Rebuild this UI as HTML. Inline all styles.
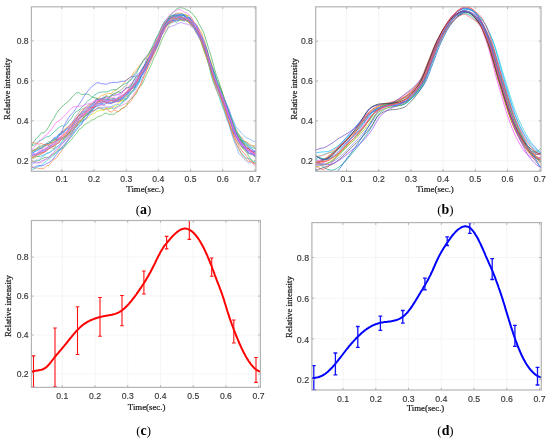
<!DOCTYPE html>
<html><head><meta charset="utf-8"><title>Figure</title>
<style>
html,body{margin:0;padding:0;background:#fff;}
body{width:550px;height:441px;overflow:hidden;}
svg{display:block;filter:blur(0.4px);}
.grid{stroke:#f4f4f4;stroke-width:0.9;}
.ax{fill:none;stroke:#b3b3b3;stroke-width:1.2;}
.tk{stroke:#b3b3b3;stroke-width:1;}
.tl{font-family:'Liberation Sans', Arial, sans-serif;fill:#363636;stroke:#363636;stroke-width:0.15px;}
.xl{font-family:'Liberation Serif', 'Times New Roman', serif;font-size:8.8px;fill:#1a1a1a;stroke:#1a1a1a;stroke-width:0.22px;}
.cap{font-family:'Liberation Serif', 'Times New Roman', serif;font-size:13.9px;fill:#000;}
</style></head><body>
<svg width="550" height="441" viewBox="0 0 550 441">
<defs>
<clipPath id="ca"><rect x="31.4" y="6.8" width="224.5" height="164.5"/></clipPath>
<clipPath id="cb"><rect x="315.7" y="6.8" width="225.3" height="164.5"/></clipPath>
<clipPath id="cc"><rect x="31.4" y="0" width="228.99999999999997" height="441"/></clipPath>
<clipPath id="cd"><rect x="311.9" y="0" width="229.39999999999998" height="441"/></clipPath>
</defs>
<line x1="61.8" y1="6.8" x2="61.8" y2="171.3" class="grid"/>
<line x1="94" y1="6.8" x2="94" y2="171.3" class="grid"/>
<line x1="126.2" y1="6.8" x2="126.2" y2="171.3" class="grid"/>
<line x1="158.3" y1="6.8" x2="158.3" y2="171.3" class="grid"/>
<line x1="190.5" y1="6.8" x2="190.5" y2="171.3" class="grid"/>
<line x1="222.7" y1="6.8" x2="222.7" y2="171.3" class="grid"/>
<line x1="254.9" y1="6.8" x2="254.9" y2="171.3" class="grid"/>
<line x1="31.4" y1="160.8" x2="255.9" y2="160.8" class="grid"/>
<line x1="31.4" y1="120.8" x2="255.9" y2="120.8" class="grid"/>
<line x1="31.4" y1="80.9" x2="255.9" y2="80.9" class="grid"/>
<line x1="31.4" y1="40.9" x2="255.9" y2="40.9" class="grid"/>
<line x1="346.6" y1="6.8" x2="346.6" y2="171.3" class="grid"/>
<line x1="378.8" y1="6.8" x2="378.8" y2="171.3" class="grid"/>
<line x1="411" y1="6.8" x2="411" y2="171.3" class="grid"/>
<line x1="443.1" y1="6.8" x2="443.1" y2="171.3" class="grid"/>
<line x1="475.3" y1="6.8" x2="475.3" y2="171.3" class="grid"/>
<line x1="507.5" y1="6.8" x2="507.5" y2="171.3" class="grid"/>
<line x1="539.7" y1="6.8" x2="539.7" y2="171.3" class="grid"/>
<line x1="315.7" y1="160.8" x2="541" y2="160.8" class="grid"/>
<line x1="315.7" y1="120.9" x2="541" y2="120.9" class="grid"/>
<line x1="315.7" y1="81" x2="541" y2="81" class="grid"/>
<line x1="315.7" y1="41.1" x2="541" y2="41.1" class="grid"/>
<line x1="62.3" y1="220.5" x2="62.3" y2="387.4" class="grid"/>
<line x1="95" y1="220.5" x2="95" y2="387.4" class="grid"/>
<line x1="127.7" y1="220.5" x2="127.7" y2="387.4" class="grid"/>
<line x1="160.5" y1="220.5" x2="160.5" y2="387.4" class="grid"/>
<line x1="193.2" y1="220.5" x2="193.2" y2="387.4" class="grid"/>
<line x1="225.9" y1="220.5" x2="225.9" y2="387.4" class="grid"/>
<line x1="258.6" y1="220.5" x2="258.6" y2="387.4" class="grid"/>
<line x1="31.4" y1="374" x2="260.4" y2="374" class="grid"/>
<line x1="31.4" y1="335" x2="260.4" y2="335" class="grid"/>
<line x1="31.4" y1="296.1" x2="260.4" y2="296.1" class="grid"/>
<line x1="31.4" y1="257.1" x2="260.4" y2="257.1" class="grid"/>
<line x1="343" y1="222.6" x2="343" y2="390" class="grid"/>
<line x1="375.8" y1="222.6" x2="375.8" y2="390" class="grid"/>
<line x1="408.5" y1="222.6" x2="408.5" y2="390" class="grid"/>
<line x1="441.3" y1="222.6" x2="441.3" y2="390" class="grid"/>
<line x1="474" y1="222.6" x2="474" y2="390" class="grid"/>
<line x1="506.8" y1="222.6" x2="506.8" y2="390" class="grid"/>
<line x1="539.6" y1="222.6" x2="539.6" y2="390" class="grid"/>
<line x1="311.9" y1="379.6" x2="541.3" y2="379.6" class="grid"/>
<line x1="311.9" y1="338.9" x2="541.3" y2="338.9" class="grid"/>
<line x1="311.9" y1="298.2" x2="541.3" y2="298.2" class="grid"/>
<line x1="311.9" y1="257.5" x2="541.3" y2="257.5" class="grid"/>
<g clip-path="url(#ca)">
<polyline points="31.4,156.3 33.9,155.3 36.4,155.7 38.9,153.6 41.4,154.2 43.9,152.5 46.4,148.9 48.9,149 51.4,146 53.9,144.7 56.4,142.3 58.9,138.2 61.4,137.1 63.9,134.5 66.4,132.7 68.9,128.1 71.4,126.4 73.9,121.3 76.4,118.4 78.9,115 81.4,114.6 83.9,111.9 86.4,111.7 88.9,108.6 91.4,106.9 93.9,104.8 96.4,102 98.9,101.7 101.4,102.9 103.9,101.8 106.4,102.5 108.9,102.6 111.4,103.1 113.9,102.1 116.4,101.8 118.9,101.4 121.4,100 123.9,97.3 126.4,96.2 128.9,91.6 131.4,88.6 133.9,84.8 136.4,82.4 138.9,76.8 141.4,71.3 143.9,66.1 146.4,62.3 148.9,56.2 151.4,51 153.9,47.3 156.4,40.5 158.9,35.8 161.4,30 163.9,24.5 166.4,21.6 168.9,20.5 171.4,17.7 173.9,16.2 176.4,15.5 178.9,16.7 181.4,16.9 183.9,17.9 186.4,18.3 188.9,20.1 191.4,22.3 193.9,25.7 196.4,30 198.9,34 201.4,39.6 203.9,47.8 206.4,54.7 208.9,61.3 211.4,72 213.9,78.6 216.4,84.1 218.9,91.7 221.4,97.7 223.9,104.1 226.4,111.1 228.9,117.8 231.4,126.2 233.9,133.8 236.4,137.7 238.9,142.3 241.4,146.7 243.9,146.7 246.4,149.8 248.9,150.7 251.4,150.9 253.9,151.4 255.9,152.2" fill="none" stroke="#ff5a5a" stroke-width="0.65" stroke-linejoin="round" />
<polyline points="31.4,153.1 33.9,152.5 36.4,149.9 38.9,147.3 41.4,148.6 43.9,146.4 46.4,143.2 48.9,143.7 51.4,141 53.9,137.8 56.4,136.9 58.9,134.8 61.4,134.4 63.9,130.5 66.4,128.9 68.9,126.6 71.4,124 73.9,120.6 76.4,118.1 78.9,115.6 81.4,112.6 83.9,109.3 86.4,107.4 88.9,106.7 91.4,104.4 93.9,102.2 96.4,99.1 98.9,100.2 101.4,98.7 103.9,96.9 106.4,98.2 108.9,98.3 111.4,94.8 113.9,95.5 116.4,94.6 118.9,94.2 121.4,92.2 123.9,90.2 126.4,88.2 128.9,87.3 131.4,85 133.9,80 136.4,76.5 138.9,76 141.4,69.3 143.9,65.8 146.4,62.3 148.9,58.4 151.4,54.2 153.9,48.8 156.4,42.7 158.9,38.5 161.4,32.2 163.9,27.9 166.4,22.6 168.9,18.8 171.4,17.2 173.9,17.9 176.4,15.6 178.9,13.9 181.4,15.1 183.9,15.9 186.4,17.5 188.9,17.3 191.4,20.7 193.9,23.8 196.4,26.2 198.9,30.8 201.4,37.3 203.9,43.2 206.4,50.1 208.9,58 211.4,66.7 213.9,73.7 216.4,81 218.9,86.5 221.4,93.5 223.9,100.1 226.4,109.3 228.9,113.9 231.4,122.1 233.9,129.5 236.4,134.4 238.9,140.2 241.4,141.2 243.9,145.9 246.4,148.7 248.9,147.7 251.4,149.7 253.9,152.2 255.9,151.4" fill="none" stroke="#5a6bff" stroke-width="0.65" stroke-linejoin="round" />
<polyline points="31.4,157.8 33.9,156.9 36.4,156 38.9,156.8 41.4,155.8 43.9,154.9 46.4,153.8 48.9,152.9 51.4,151.2 53.9,149.7 56.4,147.4 58.9,145.4 61.4,142.5 63.9,138.9 66.4,136.2 68.9,133.7 71.4,129.7 73.9,126.8 76.4,123.8 78.9,119.4 81.4,116.5 83.9,117.1 86.4,114.6 88.9,113.6 91.4,110.1 93.9,110.9 96.4,109.1 98.9,108.3 101.4,108.4 103.9,109.1 106.4,109 108.9,108.9 111.4,107.9 113.9,109.1 116.4,107.2 118.9,106.1 121.4,104.2 123.9,99.8 126.4,99.3 128.9,95.8 131.4,92.6 133.9,89.5 136.4,84.9 138.9,82.1 141.4,76.2 143.9,70.8 146.4,65.5 148.9,61 151.4,56.3 153.9,49.9 156.4,43.7 158.9,39.9 161.4,31.9 163.9,28.8 166.4,24.4 168.9,21.6 171.4,20.1 173.9,20 176.4,19.8 178.9,18.7 181.4,19.8 183.9,21.3 186.4,20.6 188.9,21.8 191.4,24.6 193.9,27.8 196.4,32.5 198.9,37.2 201.4,42.2 203.9,50.7 206.4,56.5 208.9,65.8 211.4,76.5 213.9,83.6 216.4,89.9 218.9,96.2 221.4,104.1 223.9,110.3 226.4,117.4 228.9,123.7 231.4,132.4 233.9,138.9 236.4,144.3 238.9,148.9 241.4,153.1 243.9,155.8 246.4,158.7 248.9,158.4 251.4,160.2 253.9,162.2 255.9,160.7" fill="none" stroke="#00c6c6" stroke-width="0.65" stroke-linejoin="round" />
<polyline points="31.4,151.3 33.9,150.4 36.4,149.3 38.9,148.5 41.4,147 43.9,146.4 46.4,145.2 48.9,143.7 51.4,141.3 53.9,139.5 56.4,138.3 58.9,135.7 61.4,133.7 63.9,129.7 66.4,127.3 68.9,127.3 71.4,124.4 73.9,122 76.4,118 78.9,114.5 81.4,111.9 83.9,108.6 86.4,108.6 88.9,105.6 91.4,104.4 93.9,101.7 96.4,99.2 98.9,97.7 101.4,95.6 103.9,95 106.4,93.9 108.9,93.3 111.4,93.7 113.9,90.6 116.4,90 118.9,87.8 121.4,85.8 123.9,83.6 126.4,79.7 128.9,78.3 131.4,76.8 133.9,72.1 136.4,69.7 138.9,66 141.4,63.6 143.9,59.5 146.4,58.7 148.9,53.7 151.4,48.6 153.9,46.8 156.4,41.3 158.9,35.8 161.4,29.9 163.9,23.6 166.4,20.1 168.9,18.2 171.4,16.6 173.9,15.3 176.4,14 178.9,13 181.4,13.1 183.9,14.4 186.4,15.3 188.9,15.4 191.4,17.4 193.9,21.7 196.4,24.7 198.9,28.8 201.4,32.2 203.9,39.2 206.4,47 208.9,55.9 211.4,62.4 213.9,72.7 216.4,78.7 218.9,84.8 221.4,89.9 223.9,97.3 226.4,105.1 228.9,109.5 231.4,118.2 233.9,125.6 236.4,129.6 238.9,134.7 241.4,136.8 243.9,140.6 246.4,142 248.9,143.3 251.4,145.8 253.9,145.6 255.9,146.4" fill="none" stroke="#ffa020" stroke-width="0.65" stroke-linejoin="round" />
<polyline points="31.4,161 33.9,161.7 36.4,159.9 38.9,160.9 41.4,158.8 43.9,157.9 46.4,157.3 48.9,157.4 51.4,155.5 53.9,154 56.4,152.3 58.9,149.1 61.4,147.9 63.9,147.7 66.4,144.8 68.9,142.2 71.4,139.9 73.9,136.2 76.4,133.8 78.9,129.7 81.4,128.1 83.9,125.1 86.4,123.7 88.9,122.5 91.4,120.2 93.9,119.5 96.4,117.7 98.9,116.2 101.4,116.1 103.9,113.5 106.4,113.1 108.9,114.5 111.4,114.2 113.9,114.4 116.4,112.4 118.9,111.3 121.4,108.5 123.9,107.9 126.4,105.3 128.9,101.2 131.4,98.5 133.9,96.3 136.4,93.3 138.9,87.2 141.4,85.5 143.9,80.6 146.4,74.8 148.9,69.6 151.4,64.5 153.9,58 156.4,53.7 158.9,47.5 161.4,40.9 163.9,35.4 166.4,31.3 168.9,25.5 171.4,22.8 173.9,21 176.4,22.7 178.9,20.3 181.4,20.1 183.9,19.7 186.4,20.2 188.9,20.4 191.4,24.1 193.9,26.9 196.4,28.6 198.9,33.4 201.4,38.2 203.9,44.1 206.4,50.6 208.9,59.1 211.4,67.4 213.9,75 216.4,83 218.9,87.7 221.4,94.1 223.9,101.9 226.4,107.9 228.9,114.6 231.4,119.9 233.9,127.2 236.4,136.5 238.9,141.7 241.4,145.9 243.9,149.7 246.4,152 248.9,156.6 251.4,159.9 253.9,162.9 255.9,163.5" fill="none" stroke="#44bb44" stroke-width="0.65" stroke-linejoin="round" />
<polyline points="31.4,158.5 33.9,156.5 36.4,154.6 38.9,152.7 41.4,151.6 43.9,150 46.4,148.6 48.9,147.4 51.4,146.1 53.9,145.7 56.4,141.5 58.9,141.2 61.4,138.8 63.9,136.5 66.4,133.6 68.9,133.9 71.4,130.2 73.9,127.6 76.4,125.7 78.9,122 81.4,121 83.9,119.4 86.4,118.7 88.9,117.4 91.4,114.2 93.9,113.9 96.4,111.6 98.9,110.8 101.4,110.1 103.9,110.5 106.4,108.4 108.9,108.8 111.4,108.5 113.9,106 116.4,106.3 118.9,102.2 121.4,100.9 123.9,97.7 126.4,94.7 128.9,91.3 131.4,88.8 133.9,86.1 136.4,82.1 138.9,79.9 141.4,76.5 143.9,69.8 146.4,67.2 148.9,62 151.4,57.2 153.9,54 156.4,47.7 158.9,41.6 161.4,35.2 163.9,27.6 166.4,26.1 168.9,22.2 171.4,21.1 173.9,19.8 176.4,19.8 178.9,20.3 181.4,19.5 183.9,20.2 186.4,19.9 188.9,22.2 191.4,25 193.9,26.6 196.4,33.2 198.9,35.6 201.4,40.4 203.9,49.5 206.4,57.8 208.9,63.6 211.4,71.3 213.9,81.7 216.4,85.3 218.9,89.2 221.4,96.4 223.9,104.6 226.4,109.7 228.9,116 231.4,123 233.9,129 236.4,132.9 238.9,135.7 241.4,140.6 243.9,142.3 246.4,146 248.9,150.1 251.4,151.7 253.9,153.9 255.9,155.9" fill="none" stroke="#e0e000" stroke-width="0.65" stroke-linejoin="round" />
<polyline points="31.4,161.6 33.9,161.9 36.4,161.7 38.9,162.7 41.4,162.8 43.9,160.3 46.4,159.1 48.9,159 51.4,154.9 53.9,153.4 56.4,150.9 58.9,148.4 61.4,145 63.9,141.3 66.4,138.9 68.9,134.3 71.4,130.4 73.9,126.4 76.4,124.6 78.9,118.8 81.4,117.4 83.9,115.3 86.4,113.5 88.9,111 91.4,109.2 93.9,107.9 96.4,105.8 98.9,104.1 101.4,106.1 103.9,104.9 106.4,107.7 108.9,107.2 111.4,106.9 113.9,107.9 116.4,108.5 118.9,106.1 121.4,105.8 123.9,104.3 126.4,103.1 128.9,100.8 131.4,97.8 133.9,94.1 136.4,90.6 138.9,87.9 141.4,83.1 143.9,76.9 146.4,69.9 148.9,65.8 151.4,60.1 153.9,54.5 156.4,50 158.9,43.6 161.4,35.8 163.9,29.7 166.4,27.3 168.9,23.3 171.4,21.8 173.9,19.5 176.4,18 178.9,18.5 181.4,19.5 183.9,18.8 186.4,18.3 188.9,20.5 191.4,22.5 193.9,26.1 196.4,30.4 198.9,35.3 201.4,38.8 203.9,44 206.4,51.8 208.9,59.9 211.4,67.3 213.9,75.4 216.4,82.4 218.9,87.2 221.4,94.5 223.9,100 226.4,105.9 228.9,113.6 231.4,119.5 233.9,128.4 236.4,133.2 238.9,137.4 241.4,140.4 243.9,144 246.4,147.9 248.9,149.3 251.4,152.8 253.9,152.8 255.9,156.4" fill="none" stroke="#ff80b0" stroke-width="0.65" stroke-linejoin="round" />
<polyline points="31.4,151.3 33.9,151.2 36.4,149.8 38.9,149 41.4,148.9 43.9,147.3 46.4,145.7 48.9,145.4 51.4,141.9 53.9,139.9 56.4,138.9 58.9,134.5 61.4,131.6 63.9,131.6 66.4,128.4 68.9,126 71.4,123.1 73.9,119.9 76.4,115.2 78.9,112.4 81.4,109.2 83.9,108.3 86.4,106.7 88.9,104.7 91.4,103.9 93.9,103.7 96.4,98.4 98.9,98.6 101.4,98.4 103.9,98.3 106.4,96.6 108.9,97.6 111.4,96.3 113.9,94.4 116.4,92.7 118.9,91.3 121.4,89.8 123.9,87.2 126.4,85.6 128.9,80.7 131.4,78.5 133.9,74.4 136.4,71.9 138.9,67.6 141.4,63.3 143.9,59.2 146.4,56.2 148.9,53.2 151.4,49.8 153.9,44.6 156.4,38 158.9,33.3 161.4,27.7 163.9,22.5 166.4,19.5 168.9,17.8 171.4,15.9 173.9,14.3 176.4,13 178.9,14.2 181.4,13.5 183.9,15.4 186.4,17.1 188.9,17.9 191.4,21.7 193.9,25.1 196.4,31.1 198.9,34.8 201.4,38.5 203.9,47.6 206.4,55.9 208.9,63.5 211.4,71.4 213.9,79.6 216.4,85.7 218.9,91.4 221.4,96.6 223.9,103.6 226.4,109 228.9,115.4 231.4,123.1 233.9,128.6 236.4,133.5 238.9,139.1 241.4,140.1 243.9,141.2 246.4,142.1 248.9,144.8 251.4,145.8 253.9,146.5 255.9,149.7" fill="none" stroke="#909090" stroke-width="0.65" stroke-linejoin="round" />
<polyline points="31.4,151.7 33.9,149.9 36.4,148.9 38.9,146.4 41.4,146.1 43.9,144.7 46.4,144.2 48.9,141.5 51.4,143.3 53.9,140.2 56.4,139.5 58.9,140 61.4,137.9 63.9,138.4 66.4,135.6 68.9,132.8 71.4,131.6 73.9,128.4 76.4,126.8 78.9,123.8 81.4,120.5 83.9,117.1 86.4,115.1 88.9,113.4 91.4,109.2 93.9,106.1 96.4,104.3 98.9,101.5 101.4,99.1 103.9,97.9 106.4,95.6 108.9,97.2 111.4,95.4 113.9,93.4 116.4,92.7 118.9,91.9 121.4,92.9 123.9,90.7 126.4,87.3 128.9,87.8 131.4,85.2 133.9,80.5 136.4,76.2 138.9,75.6 141.4,70.6 143.9,67 146.4,62.5 148.9,59.6 151.4,55.1 153.9,49.6 156.4,43.7 158.9,38.7 161.4,32.9 163.9,25.3 166.4,23.6 168.9,19.5 171.4,18 173.9,16.5 176.4,16.4 178.9,16 181.4,16.8 183.9,15 186.4,15.2 188.9,17.4 191.4,18.8 193.9,22.9 196.4,25 198.9,29.8 201.4,35.3 203.9,41.1 206.4,48 208.9,57.1 211.4,65 213.9,70.5 216.4,79.3 218.9,85.1 221.4,90.8 223.9,97 226.4,104.1 228.9,111.1 231.4,118 233.9,126.3 236.4,132.1 238.9,135.5 241.4,139.3 243.9,143.9 246.4,145.5 248.9,148.7 251.4,151 253.9,153.2 255.9,154" fill="none" stroke="#3a9a3a" stroke-width="0.65" stroke-linejoin="round" />
<polyline points="31.4,165.9 33.9,163.2 36.4,160.6 38.9,159.9 41.4,157.2 43.9,156.2 46.4,153 48.9,152.5 51.4,151.5 53.9,148.6 56.4,147.2 58.9,145.7 61.4,143.3 63.9,142.4 66.4,138.3 68.9,135.7 71.4,132.6 73.9,127.9 76.4,125.2 78.9,124.3 81.4,121.5 83.9,120.8 86.4,117.5 88.9,115.1 91.4,113.4 93.9,110.5 96.4,109.8 98.9,106.9 101.4,107.6 103.9,107.3 106.4,106.9 108.9,107 111.4,106.5 113.9,105.2 116.4,104.2 118.9,104.7 121.4,102.7 123.9,101.6 126.4,99.8 128.9,96.7 131.4,93.2 133.9,90.7 136.4,88.2 138.9,83.4 141.4,80.1 143.9,73.9 146.4,68.5 148.9,62.5 151.4,57.7 153.9,53.3 156.4,46.6 158.9,40.9 161.4,34.3 163.9,30.2 166.4,24.9 168.9,23 171.4,22.6 173.9,21.8 176.4,19.8 178.9,20.2 181.4,17.8 183.9,20.1 186.4,20.5 188.9,20.7 191.4,22.4 193.9,26.5 196.4,30.7 198.9,35.1 201.4,40.1 203.9,47.2 206.4,55.3 208.9,62 211.4,71.1 213.9,79.2 216.4,87.6 218.9,93 221.4,101.4 223.9,108.4 226.4,118.1 228.9,124.3 231.4,132.8 233.9,140.5 236.4,146.8 238.9,153.8 241.4,155.7 243.9,158.7 246.4,161.3 248.9,163.2 251.4,162.4 253.9,163.6 255.9,162.7" fill="none" stroke="#6fa8ff" stroke-width="0.65" stroke-linejoin="round" />
<polyline points="31.4,154.3 33.9,153.3 36.4,154.1 38.9,150.4 41.4,150 43.9,149.1 46.4,147.7 48.9,146.1 51.4,144.7 53.9,142.1 56.4,140.3 58.9,138.4 61.4,135.5 63.9,133 66.4,129.5 68.9,126.5 71.4,124 73.9,121.3 76.4,117.4 78.9,115 81.4,112.6 83.9,110.8 86.4,107.5 88.9,107.5 91.4,105.2 93.9,104.1 96.4,101 98.9,99.8 101.4,99.2 103.9,99.2 106.4,97.6 108.9,98.3 111.4,97.8 113.9,97.6 116.4,95.1 118.9,94.3 121.4,94 123.9,90.1 126.4,89 128.9,85.6 131.4,83.5 133.9,81.3 136.4,78.8 138.9,74.5 141.4,70.6 143.9,68.9 146.4,63.9 148.9,60.2 151.4,55.8 153.9,50.9 156.4,45.1 158.9,39.9 161.4,32.8 163.9,28.8 166.4,24.9 168.9,22.8 171.4,22.6 173.9,20.5 176.4,19.4 178.9,17.9 181.4,19.5 183.9,20.4 186.4,19.2 188.9,21.7 191.4,23.1 193.9,26.4 196.4,29.7 198.9,32.9 201.4,38.8 203.9,44.2 206.4,54.4 208.9,62.3 211.4,69.4 213.9,77.3 216.4,83.8 218.9,89.9 221.4,96.4 223.9,102.7 226.4,109.6 228.9,115.6 231.4,123.1 233.9,130.4 236.4,136.2 238.9,139.7 241.4,144.6 243.9,145.4 246.4,147 248.9,148.9 251.4,150 253.9,151 255.9,150.3" fill="none" stroke="#ff66ff" stroke-width="0.65" stroke-linejoin="round" />
<polyline points="31.4,145.5 33.9,145.2 36.4,143.4 38.9,140.8 41.4,140.3 43.9,138.5 46.4,136.9 48.9,136.5 51.4,134.9 53.9,131.9 56.4,129.8 58.9,127.7 61.4,125.8 63.9,126.1 66.4,124.6 68.9,120.8 71.4,118.4 73.9,113.8 76.4,111.5 78.9,110.1 81.4,107.6 83.9,105.4 86.4,102.2 88.9,100.1 91.4,98.3 93.9,95.6 96.4,94 98.9,92.4 101.4,92.1 103.9,91.9 106.4,91.9 108.9,91.1 111.4,90 113.9,89.6 116.4,89.7 118.9,87.9 121.4,85.9 123.9,84.3 126.4,83.4 128.9,81.6 131.4,79.7 133.9,75.4 136.4,73.4 138.9,68.2 141.4,64.3 143.9,60.2 146.4,57.3 148.9,53.7 151.4,48.4 153.9,43.3 156.4,37.5 158.9,33.6 161.4,27.4 163.9,22.6 166.4,19.1 168.9,16.8 171.4,15.8 173.9,15.7 176.4,15.8 178.9,15 181.4,15.5 183.9,15.7 186.4,16.8 188.9,17.7 191.4,21.9 193.9,25 196.4,29.5 198.9,32.3 201.4,38.2 203.9,44.1 206.4,53.2 208.9,61.2 211.4,69.8 213.9,76.9 216.4,83.9 218.9,89.1 221.4,96.5 223.9,102.5 226.4,109.2 228.9,116.5 231.4,124.2 233.9,128.9 236.4,133.4 238.9,138.2 241.4,140.7 243.9,141.3 246.4,143.4 248.9,145.5 251.4,147.4 253.9,148.1 255.9,149" fill="none" stroke="#20b090" stroke-width="0.65" stroke-linejoin="round" />
<polyline points="31.4,165.5 33.9,168.3 36.4,167.8 38.9,168.5 41.4,168.4 43.9,168.6 46.4,165.9 48.9,165.4 51.4,162.3 53.9,159.1 56.4,158 58.9,154.2 61.4,151.4 63.9,146.5 66.4,142.7 68.9,138.2 71.4,134.4 73.9,129.2 76.4,126.6 78.9,121 81.4,120.2 83.9,116.5 86.4,115.4 88.9,113.2 91.4,111.7 93.9,110.9 96.4,108.7 98.9,107.4 101.4,108.8 103.9,109.8 106.4,108.1 108.9,111.4 111.4,112 113.9,109.9 116.4,111.1 118.9,111.5 121.4,109 123.9,107.8 126.4,105.5 128.9,103.3 131.4,100.6 133.9,96.1 136.4,92.1 138.9,88.2 141.4,82.7 143.9,76.3 146.4,71.4 148.9,63.4 151.4,59.1 153.9,53 156.4,47.3 158.9,42.2 161.4,35.8 163.9,31.7 166.4,26.3 168.9,23.3 171.4,22.5 173.9,20.8 176.4,18 178.9,19.3 181.4,19.9 183.9,19.4 186.4,21 188.9,22.3 191.4,25.3 193.9,27.2 196.4,30.9 198.9,36.6 201.4,42.5 203.9,49.7 206.4,56.4 208.9,64.6 211.4,74 213.9,81.4 216.4,90.1 218.9,94.8 221.4,100.1 223.9,108.1 226.4,115.4 228.9,122.5 231.4,130.4 233.9,138 236.4,144.3 238.9,149.1 241.4,154.1 243.9,157.4 246.4,159.7 248.9,161.7 251.4,161.5 253.9,162.8 255.9,164" fill="none" stroke="#ff7a3a" stroke-width="0.65" stroke-linejoin="round" />
<polyline points="31.4,154 33.9,152 36.4,150.9 38.9,149.2 41.4,147.7 43.9,145.7 46.4,144.7 48.9,143.2 51.4,141.3 53.9,138.5 56.4,138.3 58.9,134.2 61.4,133.3 63.9,132.3 66.4,129.2 68.9,128.5 71.4,126.6 73.9,123.3 76.4,119.2 78.9,116.5 81.4,112.8 83.9,111.4 86.4,109.7 88.9,107.6 91.4,105.9 93.9,103.4 96.4,99.8 98.9,99.9 101.4,99.1 103.9,100.5 106.4,99.7 108.9,99.5 111.4,100.5 113.9,100.6 116.4,100.1 118.9,99.7 121.4,98.5 123.9,98.9 126.4,98.5 128.9,93.5 131.4,91.7 133.9,90.1 136.4,86.1 138.9,82.2 141.4,75.9 143.9,71.9 146.4,67.6 148.9,62.5 151.4,57.1 153.9,50.8 156.4,46.5 158.9,39.6 161.4,33.8 163.9,27.3 166.4,24.7 168.9,20.1 171.4,18.3 173.9,15 176.4,16.8 178.9,15.9 181.4,14.2 183.9,14.6 186.4,18 188.9,17.4 191.4,21.8 193.9,22.9 196.4,25 198.9,32.1 201.4,36.5 203.9,42.3 206.4,48.5 208.9,56.9 211.4,65.9 213.9,72.3 216.4,78.8 218.9,87.2 221.4,91.8 223.9,99.5 226.4,104.5 228.9,110.9 231.4,117.5 233.9,122.7 236.4,131.7 238.9,134.7 241.4,138.5 243.9,142.8 246.4,144.3 248.9,147 251.4,148.5 253.9,150.6 255.9,151.5" fill="none" stroke="#00a8ff" stroke-width="0.65" stroke-linejoin="round" />
<polyline points="31.4,159.3 33.9,158.2 36.4,156.7 38.9,156 41.4,153.3 43.9,152.2 46.4,151 48.9,148.8 51.4,147.9 53.9,148.8 56.4,144.8 58.9,142.3 61.4,139.5 63.9,140 66.4,136.8 68.9,134.2 71.4,134.1 73.9,130.2 76.4,124.2 78.9,121.8 81.4,119.9 83.9,117.2 86.4,113.2 88.9,113.1 91.4,110.8 93.9,105.7 96.4,102.4 98.9,100.6 101.4,101.2 103.9,101.2 106.4,100.6 108.9,100.2 111.4,101 113.9,101.7 116.4,100.5 118.9,100 121.4,100.9 123.9,100.7 126.4,97.9 128.9,95.5 131.4,91.8 133.9,89.3 136.4,82.8 138.9,79.2 141.4,73.4 143.9,68.1 146.4,61.9 148.9,58 151.4,51.9 153.9,46.1 156.4,41.6 158.9,35.6 161.4,29.2 163.9,24.1 166.4,22.2 168.9,18.8 171.4,18.2 173.9,17.5 176.4,17.9 178.9,17.7 181.4,20 183.9,17.6 186.4,20.8 188.9,22.3 191.4,25.9 193.9,27.1 196.4,33.4 198.9,35.9 201.4,43 203.9,49.7 206.4,57.5 208.9,64.9 211.4,72.9 213.9,81.2 216.4,86.9 218.9,92 221.4,98.8 223.9,107.7 226.4,114.7 228.9,121.5 231.4,128.6 233.9,135.4 236.4,140.5 238.9,144.3 241.4,146.8 243.9,149.5 246.4,151.3 248.9,153.9 251.4,154.3 253.9,155.9 255.9,157.5" fill="none" stroke="#a0a040" stroke-width="0.65" stroke-linejoin="round" />
<polyline points="31.4,147 33.9,141.7 36.4,138.4 38.9,135.8 41.4,132.9 43.9,132.7 46.4,130.3 48.9,126.5 51.4,121.7 53.9,118.3 56.4,113.5 58.9,110 61.4,107.4 63.9,104.9 66.4,102.8 68.9,100.9 71.4,97.7 73.9,95.2 76.4,92.8 78.9,92.7 81.4,94.7 83.9,94.2 86.4,94.2 88.9,94.4 91.4,96.7 93.9,97.4 96.4,98.1 98.9,99.5 101.4,99.1 103.9,99 106.4,99.5 108.9,99.3 111.4,98.9 113.9,98.4 116.4,99 118.9,97.7 121.4,95.6 123.9,94.6 126.4,92.1 128.9,89.5 131.4,86.3 133.9,83.9 136.4,79.6 138.9,76.6 141.4,72.1 143.9,68.2 146.4,62.7 148.9,58.5 151.4,53.7 153.9,48.3 156.4,43.3 158.9,37.9 161.4,32.5 163.9,27.1 166.4,22.5 168.9,17.8 171.4,14.1 173.9,11.6 176.4,9.2 178.9,7.8 181.4,7.7 183.9,8.3 186.4,9.6 188.9,10.6 191.4,12.6 193.9,15.6 196.4,18.6 198.9,23.8 201.4,28.2 203.9,32.9 206.4,41.2 208.9,49.3 211.4,57.2 213.9,66.5 216.4,75.3 218.9,81.6 221.4,89.4 223.9,98.7 226.4,105.8 228.9,112.8 231.4,120.6 233.9,128.1 236.4,134.1 238.9,137.9 241.4,142.2 243.9,144.3 246.4,148.8 248.9,151.1 251.4,150.6 253.9,153.2 255.9,153.5" fill="none" stroke="#2fa84f" stroke-width="0.65" stroke-linejoin="round" />
<polyline points="31.4,155.3 33.9,154.5 36.4,154.5 38.9,153 41.4,150.7 43.9,150.2 46.4,148.7 48.9,146.4 51.4,145.3 53.9,142.6 56.4,140.8 58.9,136.4 61.4,132.8 63.9,126.4 66.4,121.5 68.9,117.3 71.4,114.2 73.9,111.8 76.4,107.6 78.9,104.8 81.4,100.7 83.9,96.5 86.4,92.9 88.9,89.8 91.4,86.8 93.9,85.1 96.4,82.9 98.9,82.8 101.4,83.8 103.9,83.8 106.4,84.3 108.9,83.1 111.4,82.7 113.9,82.3 116.4,82.5 118.9,82.1 121.4,81.3 123.9,81.4 126.4,80.4 128.9,78.3 131.4,76.4 133.9,77 136.4,75.2 138.9,73.4 141.4,71.1 143.9,67.5 146.4,59.3 148.9,58.2 151.4,53.1 153.9,47.1 156.4,43.1 158.9,36.8 161.4,32.1 163.9,26.1 166.4,21.8 168.9,18.3 171.4,17.1 173.9,15.2 176.4,14.7 178.9,15.1 181.4,15 183.9,15 186.4,17.6 188.9,17.5 191.4,20.2 193.9,23.4 196.4,25.3 198.9,33.5 201.4,36 203.9,43.1 206.4,48.6 208.9,58.5 211.4,65.2 213.9,74.1 216.4,82.5 218.9,88.1 221.4,94.3 223.9,100.9 226.4,105.9 228.9,113.3 231.4,121.7 233.9,129.7 236.4,134.5 238.9,139 241.4,142.6 243.9,145.7 246.4,147.9 248.9,148.7 251.4,151.9 253.9,151.7 255.9,152.1" fill="none" stroke="#5060ff" stroke-width="0.65" stroke-linejoin="round" />
<polyline points="31.4,150.9 33.9,147.3 36.4,144.6 38.9,142.2 41.4,139.2 43.9,136.7 46.4,134.9 48.9,132.7 51.4,129.4 53.9,125.6 56.4,122.2 58.9,121 61.4,118.7 63.9,116.3 66.4,113.9 68.9,110.7 71.4,108.4 73.9,106.8 76.4,106.6 78.9,106.3 81.4,106.1 83.9,105.3 86.4,104.2 88.9,103.7 91.4,103.1 93.9,101.3 96.4,100.5 98.9,100.2 101.4,98.9 103.9,99.3 106.4,100.8 108.9,100 111.4,100.4 113.9,99.4 116.4,99.7 118.9,97.9 121.4,96.6 123.9,94.5 126.4,91.8 128.9,88.9 131.4,89.7 133.9,84.8 136.4,82.1 138.9,76.8 141.4,73.8 143.9,69.4 146.4,63.8 148.9,61.4 151.4,56.2 153.9,49.8 156.4,45.6 158.9,40.3 161.4,33.7 163.9,28 166.4,23.9 168.9,21.1 171.4,18.1 173.9,17.7 176.4,17.8 178.9,16.8 181.4,18 183.9,17.5 186.4,17.6 188.9,18.8 191.4,21.3 193.9,25.1 196.4,28.7 198.9,31 201.4,38.6 203.9,45.5 206.4,51.4 208.9,60.6 211.4,67.5 213.9,77.1 216.4,82.4 218.9,88.9 221.4,96.5 223.9,102.7 226.4,108.6 228.9,116.7 231.4,123.3 233.9,130.9 236.4,136.9 238.9,141.4 241.4,143 243.9,146 246.4,149.5 248.9,150.8 251.4,150.1 253.9,154.7 255.9,153.7" fill="none" stroke="#ff5cff" stroke-width="0.65" stroke-linejoin="round" />
<polyline points="31.4,142.5 33.9,142.8 36.4,143.4 38.9,144.2 41.4,143.5 43.9,144.6 46.4,144.7 48.9,144.4 51.4,143.4 53.9,142.3 56.4,140.1 58.9,139.3 61.4,136.6 63.9,134.6 66.4,132 68.9,129.1 71.4,126 73.9,122.6 76.4,120.2 78.9,114.9 81.4,114.7 83.9,113 86.4,110 88.9,108.4 91.4,107.6 93.9,105.5 96.4,103.2 98.9,99.7 101.4,102.5 103.9,100.6 106.4,103 108.9,100.4 111.4,100.5 113.9,99.1 116.4,99.2 118.9,99.1 121.4,96.9 123.9,95.6 126.4,93.1 128.9,88.8 131.4,88.1 133.9,84.1 136.4,81.6 138.9,76.8 141.4,74.5 143.9,68.6 146.4,66.2 148.9,59.5 151.4,55.7 153.9,48.9 156.4,44.9 158.9,38.8 161.4,33.7 163.9,28.7 166.4,24.6 168.9,20.5 171.4,18.3 173.9,17.7 176.4,16.5 178.9,17.8 181.4,17.3 183.9,17.9 186.4,17 188.9,19 191.4,21.2 193.9,25.4 196.4,29.1 198.9,31.3 201.4,39.1 203.9,45.7 206.4,50.5 208.9,59.5 211.4,68.7 213.9,75.4 216.4,82.7 218.9,88.8 221.4,93.8 223.9,101.5 226.4,107.8 228.9,115.4 231.4,122.8 233.9,130.2 236.4,135.7 238.9,139.4 241.4,143.8 243.9,148.2 246.4,148.3 248.9,148.4 251.4,151.7 253.9,152.9 255.9,153.3" fill="none" stroke="#ff6a4a" stroke-width="0.65" stroke-linejoin="round" />
<polyline points="31.4,170.3 33.9,168.9 36.4,167.7 38.9,166.3 41.4,165.4 43.9,163 46.4,161 48.9,158.6 51.4,157.1 53.9,155.1 56.4,152.6 58.9,150.3 61.4,149.7 63.9,147.1 66.4,143 68.9,139 71.4,135.2 73.9,132.1 76.4,128.4 78.9,125.4 81.4,123.2 83.9,118.4 86.4,114.8 88.9,111.9 91.4,110.8 93.9,108.1 96.4,106.3 98.9,103.3 101.4,103.5 103.9,103.6 106.4,101.5 108.9,102.4 111.4,102.6 113.9,101.9 116.4,100.3 118.9,99.7 121.4,99.2 123.9,97.3 126.4,95.2 128.9,92.5 131.4,89.5 133.9,87 136.4,83 138.9,78 141.4,75.5 143.9,69.8 146.4,65.3 148.9,61.2 151.4,57.4 153.9,51.5 156.4,48.2 158.9,41.6 161.4,35 163.9,27.6 166.4,26 168.9,23.1 171.4,21.2 173.9,19.7 176.4,18.7 178.9,18.9 181.4,17.8 183.9,18 186.4,20.5 188.9,20.8 191.4,23.1 193.9,26.9 196.4,31.7 198.9,36 201.4,40.2 203.9,44.2 206.4,54.4 208.9,63 211.4,69.6 213.9,78 216.4,83.6 218.9,89.8 221.4,96.6 223.9,103.3 226.4,110.1 228.9,117.3 231.4,124 233.9,132.5 236.4,135.7 238.9,142.5 241.4,145.8 243.9,148 246.4,150.1 248.9,152.9 251.4,153.5 253.9,155.7 255.9,156.2" fill="none" stroke="#20c8d8" stroke-width="0.65" stroke-linejoin="round" />
<polyline points="31.4,167.4 33.9,167.3 36.4,166.2 38.9,165.5 41.4,165.8 43.9,165.1 46.4,163.7 48.9,162.5 51.4,160.6 53.9,158 56.4,154.5 58.9,151.1 61.4,148 63.9,144.6 66.4,142.4 68.9,139.6 71.4,136.7 73.9,133.2 76.4,130 78.9,126.7 81.4,124.5 83.9,120.1 86.4,118.5 88.9,113.3 91.4,111.7 93.9,108.2 96.4,106.2 98.9,105.7 101.4,103.9 103.9,105.2 106.4,103 108.9,103.7 111.4,103.4 113.9,102.3 116.4,101 118.9,101.5 121.4,98.8 123.9,97.4 126.4,94 128.9,92.6 131.4,88.7 133.9,87.9 136.4,84.1 138.9,81 141.4,75.7 143.9,72.2 146.4,67.9 148.9,61.2 151.4,56.7 153.9,51.4 156.4,47.4 158.9,42.3 161.4,35.7 163.9,28.7 166.4,25.7 168.9,22.8 171.4,20.3 173.9,20.8 176.4,20.9 178.9,20.3 181.4,18.4 183.9,20.2 186.4,18.5 188.9,20.6 191.4,24.2 193.9,26.3 196.4,30.3 198.9,36.2 201.4,39.7 203.9,46.4 206.4,53.5 208.9,62.4 211.4,70.6 213.9,77.6 216.4,84.1 218.9,91.2 221.4,96.1 223.9,104.5 226.4,110.7 228.9,117.9 231.4,123.2 233.9,132.9 236.4,136.9 238.9,141.4 241.4,143.9 243.9,147.9 246.4,149.8 248.9,153.4 251.4,153.9 253.9,155 255.9,157.3" fill="none" stroke="#4a5cff" stroke-width="0.65" stroke-linejoin="round" />
<polyline points="31.4,162.8 33.9,162.9 36.4,162.8 38.9,162.8 41.4,161.1 43.9,160.2 46.4,158.7 48.9,156.9 51.4,155 53.9,152.3 56.4,149 58.9,147.1 61.4,143.8 63.9,141.7 66.4,139.6 68.9,136.1 71.4,133.1 73.9,129.8 76.4,125.1 78.9,120.8 81.4,117.9 83.9,115 86.4,112.7 88.9,111.7 91.4,109.4 93.9,106.9 96.4,105.9 98.9,103.5 101.4,104.6 103.9,101.4 106.4,103.1 108.9,102.1 111.4,102.5 113.9,100.7 116.4,101.4 118.9,100.2 121.4,98.4 123.9,95.7 126.4,94.1 128.9,91 131.4,89 133.9,84.7 136.4,81.7 138.9,77.8 141.4,75.5 143.9,70.6 146.4,64.6 148.9,60.9 151.4,57.3 153.9,51 156.4,44.9 158.9,40 161.4,34.6 163.9,29.6 166.4,24.3 168.9,20.5 171.4,20.6 173.9,18.9 176.4,17.2 178.9,16.9 181.4,17.7 183.9,17.2 186.4,18.2 188.9,21.2 191.4,23.8 193.9,26.5 196.4,29.1 198.9,34.4 201.4,38.1 203.9,45.7 206.4,52.5 208.9,63 211.4,69.8 213.9,77.6 216.4,84.3 218.9,91.2 221.4,95.9 223.9,102.6 226.4,109.1 228.9,117.1 231.4,123.1 233.9,131.1 236.4,136.9 238.9,142.1 241.4,143 243.9,146.6 246.4,150.8 248.9,153.6 251.4,153.8 253.9,154.9 255.9,155.4" fill="none" stroke="#a070ff" stroke-width="0.65" stroke-linejoin="round" />
<polyline points="31.4,156.9 33.9,155.4 36.4,153.7 38.9,154.5 41.4,151.8 43.9,151.6 46.4,150.1 48.9,148 51.4,147.2 53.9,145 56.4,144 58.9,142.1 61.4,139.3 63.9,137.2 66.4,134.4 68.9,129.9 71.4,127.8 73.9,125.1 76.4,121.3 78.9,118.9 81.4,115.3 83.9,114.8 86.4,111.3 88.9,108.8 91.4,108.3 93.9,105.3 96.4,103.4 98.9,103.4 101.4,102 103.9,101.8 106.4,101.7 108.9,100 111.4,100.3 113.9,99.6 116.4,100 118.9,98.2 121.4,97.4 123.9,95.5 126.4,92.7 128.9,92 131.4,89.5 133.9,86.2 136.4,83.1 138.9,77.7 141.4,74.6 143.9,70.7 146.4,66.2 148.9,59.3 151.4,54.9 153.9,51.5 156.4,44.9 158.9,39.8 161.4,35 163.9,32.5 166.4,29.8 168.9,27.5 171.4,26.3 173.9,25.7 176.4,24.1 178.9,23.3 181.4,22.4 183.9,23.6 186.4,24 188.9,24.5 191.4,26.9 193.9,28.6 196.4,32.7 198.9,37.2 201.4,40.2 203.9,43.6 206.4,51.8 208.9,59.1 211.4,67.6 213.9,76.5 216.4,84.4 218.9,88.6 221.4,95.9 223.9,103.8 226.4,109.2 228.9,115.8 231.4,122.2 233.9,130.9 236.4,135.6 238.9,141 241.4,145.1 243.9,146.4 246.4,149.3 248.9,151.3 251.4,153.2 253.9,154.2 255.9,153.9" fill="none" stroke="#b070ff" stroke-width="0.65" stroke-linejoin="round" />
<polyline points="31.4,155.3 33.9,154.7 36.4,153.8 38.9,152.1 41.4,151.1 43.9,151.2 46.4,147.6 48.9,148.5 51.4,146.3 53.9,144.6 56.4,141.3 58.9,140.1 61.4,137.7 63.9,136.8 66.4,134.9 68.9,130.6 71.4,129.5 73.9,124.9 76.4,120.7 78.9,118.2 81.4,115.1 83.9,113.5 86.4,112 88.9,108.7 91.4,106.8 93.9,105.8 96.4,102.1 98.9,100.1 101.4,100.2 103.9,100.5 106.4,100.6 108.9,100.7 111.4,100.4 113.9,99.3 116.4,99.2 118.9,95.7 121.4,96 123.9,93.5 126.4,91.9 128.9,90.5 131.4,86.3 133.9,84.6 136.4,79.9 138.9,77.1 141.4,71.9 143.9,68.7 146.4,65.2 148.9,59.4 151.4,53 153.9,47.5 156.4,41.8 158.9,36 161.4,29.6 163.9,23.5 166.4,20.2 168.9,15.6 171.4,13.5 173.9,11.6 176.4,10.7 178.9,9.4 181.4,10.2 183.9,12.1 186.4,12.5 188.9,15.1 191.4,17.8 193.9,22.7 196.4,25.6 198.9,30.6 201.4,35.1 203.9,41.2 206.4,51.8 208.9,59.7 211.4,67.9 213.9,76.2 216.4,81.3 218.9,89 221.4,94.4 223.9,100.7 226.4,107.3 228.9,114.7 231.4,121.1 233.9,129.4 236.4,134.7 238.9,140.4 241.4,145.3 243.9,145.5 246.4,149.6 248.9,150.3 251.4,152.1 253.9,153.5 255.9,154.5" fill="none" stroke="#ff66ff" stroke-width="0.65" stroke-linejoin="round" />
<polyline points="31.4,156.1 33.9,153.9 36.4,155 38.9,152.1 41.4,152.6 43.9,150 46.4,150.5 48.9,148.4 51.4,146.5 53.9,146.7 56.4,142.7 58.9,140.2 61.4,138.6 63.9,136.6 66.4,134 68.9,131.7 71.4,128.5 73.9,123.6 76.4,120.7 78.9,117.8 81.4,116.1 83.9,112.3 86.4,111.4 88.9,109.9 91.4,106.4 93.9,105.2 96.4,103.2 98.9,101.4 101.4,101 103.9,100.4 106.4,99.8 108.9,100.5 111.4,100.3 113.9,98.8 116.4,98.9 118.9,97.1 121.4,97.6 123.9,97.2 126.4,92.3 128.9,91.6 131.4,86.9 133.9,84.4 136.4,78.8 138.9,77.1 141.4,74 143.9,68.3 146.4,65 148.9,60.1 151.4,55.3 153.9,50 156.4,44.3 158.9,39.8 161.4,33.8 163.9,26.3 166.4,24 168.9,19.6 171.4,20.1 173.9,16.8 176.4,17 178.9,17.2 181.4,16.5 183.9,17.9 186.4,17.7 188.9,18.9 191.4,22 193.9,24.8 196.4,28.5 198.9,33.7 201.4,36.7 203.9,44.1 206.4,51.5 208.9,61.1 211.4,68 213.9,74.8 216.4,82.1 218.9,87.9 221.4,93.2 223.9,97.5 226.4,103.1 228.9,108.8 231.4,116 233.9,122.7 236.4,127.2 238.9,129.9 241.4,133 243.9,135.5 246.4,137.9 248.9,138.7 251.4,139.9 253.9,141.5 255.9,141.4" fill="none" stroke="#6fa8ff" stroke-width="0.65" stroke-linejoin="round" />
<polyline points="31.4,157.3 33.9,157 36.4,155.3 38.9,154.1 41.4,152.5 43.9,152.6 46.4,151 48.9,148.4 51.4,147 53.9,146.3 56.4,143.6 58.9,143.1 61.4,139.3 63.9,136.4 66.4,135.6 68.9,132.2 71.4,128.7 73.9,125.4 76.4,121.6 78.9,118.5 81.4,116 83.9,115 86.4,111.6 88.9,110.4 91.4,107.4 93.9,107.6 96.4,104.2 98.9,101.1 101.4,100.5 103.9,101.1 106.4,103.1 108.9,101.5 111.4,100.6 113.9,101.3 116.4,100.3 118.9,98.3 121.4,97.6 123.9,95 126.4,92.4 128.9,90.3 131.4,89.7 133.9,84.7 136.4,83.2 138.9,76.8 141.4,73 143.9,71 146.4,65.2 148.9,60.4 151.4,57.4 153.9,51.3 156.4,45.6 158.9,40.9 161.4,33.3 163.9,28.1 166.4,24.9 168.9,21.5 171.4,20.6 173.9,17.6 176.4,19.9 178.9,17.3 181.4,17.2 183.9,18.5 186.4,19.7 188.9,20.1 191.4,22.8 193.9,25.7 196.4,28.6 198.9,34 201.4,39.2 203.9,45.4 206.4,52.5 208.9,61.6 211.4,69 213.9,78.5 216.4,84.2 218.9,90.9 221.4,97.7 223.9,104.3 226.4,112.8 228.9,122.2 231.4,129.5 233.9,135.2 236.4,140.8 238.9,146 241.4,150.2 243.9,153.1 246.4,156.1 248.9,160 251.4,162.2 253.9,164.4 255.9,165.9" fill="none" stroke="#ff5a5a" stroke-width="0.65" stroke-linejoin="round" />
</g>
<g clip-path="url(#cb)">
<polyline points="315.7,163.3 317.2,162.7 318.7,162 320.2,161.4 321.7,160.8 323.2,160.1 324.7,159.5 326.2,158.9 327.7,158.1 329.2,157 330.7,155.6 332.2,154 333.7,152.5 335.2,150.9 336.7,149.3 338.2,147.4 339.7,145.5 341.2,143.6 342.7,141.7 344.2,139.9 345.7,138.2 347.2,136.5 348.7,134.8 350.2,133.1 351.7,131.4 353.2,129.6 354.7,127.8 356.2,126.1 357.7,124.2 359.2,122.4 360.7,120.6 362.2,118.8 363.7,116.9 365.2,114.9 366.7,112.8 368.2,110.8 369.7,109.1 371.2,107.7 372.7,106.8 374.2,106.1 375.7,105.6 377.2,105.2 378.7,105 380.2,104.8 381.7,104.7 383.2,104.6 384.7,104.6 386.2,104.7 387.7,104.8 389.2,105 390.7,105.2 392.2,105.3 393.7,105.4 395.2,105.5 396.7,105.5 398.2,105.4 399.7,105.2 401.2,105 402.7,104.7 404.2,104.1 405.7,103.2 407.2,102.1 408.7,100.8 410.2,99.5 411.7,98 413.2,96.4 414.7,94.6 416.2,92.6 417.7,90.6 419.2,88.4 420.7,86.1 422.2,83.5 423.7,80.6 425.2,77.1 426.7,73.2 428.2,69 429.7,64.8 431.2,60.6 432.7,56.5 434.2,52.3 435.7,48 437.2,43.9 438.7,40.1 440.2,36.8 441.7,33.5 443.2,30.5 444.7,27.5 446.2,24.8 447.7,22.3 449.2,20 450.7,18.1 452.2,16.3 453.7,14.7 455.2,13.3 456.7,12 458.2,10.9 459.7,9.9 461.2,9.1 462.7,8.3 464.2,7.8 465.7,7.8 467.2,8.2 468.7,8.7 470.2,9.2 471.7,9.9 473.2,10.9 474.7,12.3 476.2,14 477.7,15.8 479.2,17.9 480.7,20 482.2,22.6 483.7,25.7 485.2,29.1 486.7,32.7 488.2,36.6 489.7,40.7 491.2,45.4 492.7,50.4 494.2,55.8 495.7,61.3 497.2,66.8 498.7,72.2 500.2,77.3 501.7,82.3 503.2,87.4 504.7,92.5 506.2,97.6 507.7,102.5 509.2,107.3 510.7,111.8 512.2,116.1 513.7,120.1 515.2,123.8 516.7,127.3 518.2,130.6 519.7,133.6 521.2,136.5 522.7,139.4 524.2,142.1 525.7,144.7 527.2,147.1 528.7,149.3 530.2,151.1 531.7,152.9 533.2,154.7 534.7,156.4 536.2,158 537.7,159.4 539.2,160.7 540.7,161.8 541,162" fill="none" stroke="#2040ff" stroke-width="0.7" stroke-linejoin="round" />
<polyline points="315.7,157.9 317.2,160.2 318.7,162.3 320.2,164.1 321.7,165.6 323.2,166.8 324.7,167.9 326.2,168.7 327.7,169.3 329.2,169.8 330.7,170.1 332.2,170.1 333.7,169.8 335.2,169.2 336.7,168.4 338.2,167.4 339.7,166.3 341.2,165.1 342.7,163.8 344.2,162.4 345.7,160.9 347.2,159.2 348.7,157.4 350.2,155.6 351.7,153.8 353.2,152.1 354.7,150.3 356.2,148.5 357.7,146.7 359.2,144.9 360.7,142.9 362.2,140.9 363.7,138.8 365.2,136.7 366.7,134.4 368.2,132.2 369.7,129.8 371.2,127.5 372.7,124.9 374.2,122.1 375.7,119.2 377.2,116.5 378.7,114.3 380.2,112.6 381.7,111.3 383.2,110.2 384.7,109.2 386.2,108.5 387.7,107.9 389.2,107.4 390.7,107.1 392.2,106.8 393.7,106.7 395.2,106.5 396.7,106.2 398.2,105.9 399.7,105.6 401.2,105.2 402.7,104.7 404.2,104.2 405.7,103.3 407.2,102.2 408.7,101 410.2,99.6 411.7,98.2 413.2,96.6 414.7,94.9 416.2,93 417.7,91.1 419.2,89 420.7,86.8 422.2,84.3 423.7,81.5 425.2,78.1 426.7,74.2 428.2,70.1 429.7,65.9 431.2,62 432.7,58.1 434.2,54 435.7,50 437.2,46.2 438.7,42.7 440.2,39.7 441.7,36.7 443.2,33.9 444.7,31.3 446.2,28.8 447.7,26.6 449.2,24.7 450.7,23 452.2,21.4 453.7,19.9 455.2,18.5 456.7,17.3 458.2,16.2 459.7,15.4 461.2,14.7 462.7,14.1 464.2,13.7 465.7,13.8 467.2,14.1 468.7,14.8 470.2,15.5 471.7,16.4 473.2,17.6 474.7,19 476.2,20.6 477.7,22.3 479.2,24.2 480.7,26.2 482.2,28.5 483.7,31.3 485.2,34.4 486.7,37.9 488.2,41.6 489.7,45.4 491.2,49.4 492.7,53.8 494.2,58.6 495.7,63.7 497.2,68.9 498.7,74.1 500.2,79.2 501.7,84.2 503.2,88.9 504.7,93.7 506.2,98.4 507.7,103.2 509.2,107.9 510.7,112.4 512.2,116.8 513.7,121 515.2,124.8 516.7,128.4 518.2,131.8 519.7,134.9 521.2,137.8 522.7,140.4 524.2,143 525.7,145.5 527.2,147.7 528.7,149.8 530.2,151.6 531.7,153.1 533.2,154.3 534.7,155.4 536.2,156.3 537.7,157.2 539.2,157.9 540.7,158.4 541,158.5" fill="none" stroke="#00a0a0" stroke-width="0.7" stroke-linejoin="round" />
<polyline points="315.7,155.5 317.2,156.4 318.7,157.1 320.2,157.7 321.7,158.2 323.2,158.6 324.7,158.8 326.2,159 327.7,159.1 329.2,158.9 330.7,158.5 332.2,157.9 333.7,157 335.2,156.1 336.7,155.1 338.2,154 339.7,152.9 341.2,151.5 342.7,150 344.2,148.4 345.7,146.7 347.2,145.1 348.7,143.4 350.2,141.9 351.7,140.3 353.2,138.8 354.7,137.2 356.2,135.6 357.7,133.9 359.2,132.2 360.7,130.5 362.2,128.7 363.7,126.8 365.2,125 366.7,123.1 368.2,121.3 369.7,119.4 371.2,117.3 372.7,115.1 374.2,112.9 375.7,110.9 377.2,109.2 378.7,108.1 380.2,107.2 381.7,106.4 383.2,105.8 384.7,105.2 386.2,104.8 387.7,104.4 389.2,104.2 390.7,104.1 392.2,104 393.7,104 395.2,103.9 396.7,103.8 398.2,103.6 399.7,103.3 401.2,103 402.7,102.7 404.2,102.2 405.7,101.5 407.2,100.6 408.7,99.5 410.2,98.2 411.7,96.9 413.2,95.5 414.7,93.8 416.2,92 417.7,90.1 419.2,88.1 420.7,86 422.2,83.5 423.7,80.8 425.2,77.5 426.7,73.7 428.2,69.6 429.7,65.4 431.2,61.3 432.7,57.3 434.2,53.2 435.7,49.1 437.2,45.1 438.7,41.5 440.2,38.3 441.7,35.3 443.2,32.4 444.7,29.6 446.2,27.1 447.7,24.8 449.2,22.8 450.7,21 452.2,19.4 453.7,17.9 455.2,16.6 456.7,15.3 458.2,14.3 459.7,13.5 461.2,12.8 462.7,12.2 464.2,11.9 465.7,12 467.2,12.5 468.7,13.1 470.2,13.9 471.7,14.8 473.2,16.1 474.7,17.6 476.2,19.3 477.7,21.2 479.2,23.2 480.7,25.3 482.2,28 483.7,31.1 485.2,34.5 486.7,38.2 488.2,42.1 489.7,46.1 491.2,50.6 492.7,55.5 494.2,60.7 495.7,65.9 497.2,71.2 498.7,76.3 500.2,81.2 501.7,85.9 503.2,90.7 504.7,95.4 506.2,100.1 507.7,104.7 509.2,109.2 510.7,113.5 512.2,117.6 513.7,121.3 515.2,124.9 516.7,128.2 518.2,131.3 519.7,134.2 521.2,136.9 522.7,139.5 524.2,142 525.7,144.5 527.2,146.8 528.7,149 530.2,150.9 531.7,152.6 533.2,154.2 534.7,155.9 536.2,157.5 537.7,159 539.2,160.5 540.7,162 541,162.3" fill="none" stroke="#20b040" stroke-width="0.7" stroke-linejoin="round" />
<polyline points="315.7,165.6 317.2,166.9 318.7,167.8 320.2,168.6 321.7,169.2 323.2,169.4 324.7,168.9 326.2,168 327.7,166.9 329.2,165.6 330.7,164.1 332.2,162.3 333.7,160.3 335.2,158.3 336.7,156.3 338.2,154.4 339.7,152.5 341.2,150.7 342.7,148.9 344.2,147.1 345.7,145.4 347.2,143.5 348.7,141.6 350.2,139.6 351.7,137.5 353.2,135.4 354.7,133.3 356.2,131.1 357.7,128.9 359.2,126.4 360.7,123.8 362.2,121.2 363.7,118.7 365.2,116.4 366.7,114.5 368.2,112.9 369.7,111.5 371.2,110.2 372.7,109 374.2,108 375.7,107.1 377.2,106.3 378.7,105.7 380.2,105.1 381.7,104.6 383.2,104.1 384.7,103.7 386.2,103.4 387.7,103 389.2,102.6 390.7,102.3 392.2,101.8 393.7,101.4 395.2,101 396.7,100.5 398.2,100 399.7,99.4 401.2,98.8 402.7,98 404.2,97.2 405.7,96.3 407.2,95.4 408.7,94.4 410.2,93.3 411.7,92 413.2,90.6 414.7,89.1 416.2,87.6 417.7,85.9 419.2,84 420.7,81.9 422.2,79.6 423.7,76.8 425.2,73.5 426.7,69.8 428.2,65.8 429.7,61.9 431.2,58.1 432.7,54.2 434.2,50.1 435.7,46.1 437.2,42.3 438.7,38.9 440.2,35.7 441.7,32.7 443.2,29.7 444.7,26.9 446.2,24.3 447.7,21.9 449.2,19.7 450.7,17.7 452.2,15.9 453.7,14.3 455.2,12.8 456.7,11.4 458.2,10.3 459.7,9.3 461.2,8.3 462.7,7.5 464.2,7.1 465.7,7.1 467.2,7.4 468.7,7.8 470.2,8.2 471.7,8.9 473.2,10 474.7,11.4 476.2,13.1 477.7,15.1 479.2,17.2 480.7,19.6 482.2,22.6 483.7,26 485.2,29.7 486.7,33.6 488.2,37.7 489.7,42.4 491.2,47.6 492.7,53.1 494.2,58.8 495.7,64.5 497.2,70.1 498.7,75.5 500.2,80.6 501.7,85.9 503.2,91.1 504.7,96.4 506.2,101.5 507.7,106.5 509.2,111.2 510.7,115.6 512.2,119.8 513.7,123.7 515.2,127.4 516.7,130.8 518.2,134 519.7,137 521.2,139.9 522.7,142.8 524.2,145.4 525.7,147.9 527.2,150 528.7,151.8 530.2,153.4 531.7,155 533.2,156.3 534.7,157.5 536.2,158.5 537.7,159.3 539.2,159.7 540.7,159.9 541,159.9" fill="none" stroke="#ff4040" stroke-width="0.7" stroke-linejoin="round" />
<polyline points="315.7,161.4 317.2,160.9 318.7,160.4 320.2,160 321.7,159.7 323.2,159.4 324.7,159 326.2,158.3 327.7,157.4 329.2,156.3 330.7,155.2 332.2,154.2 333.7,153 335.2,151.7 336.7,150.3 338.2,148.9 339.7,147.5 341.2,146.2 342.7,145 344.2,143.8 345.7,142.6 347.2,141.5 348.7,140.3 350.2,139.1 351.7,137.8 353.2,136.4 354.7,135 356.2,133.6 357.7,132.1 359.2,130.6 360.7,129 362.2,127.3 363.7,125.4 365.2,123.4 366.7,121.3 368.2,119.2 369.7,117.3 371.2,115.7 372.7,114.5 374.2,113.4 375.7,112.3 377.2,111.3 378.7,110.4 380.2,109.5 381.7,108.7 383.2,107.9 384.7,107.3 386.2,106.6 387.7,106 389.2,105.4 390.7,104.8 392.2,104.2 393.7,103.4 395.2,102.7 396.7,101.9 398.2,101.1 399.7,100.2 401.2,99.3 402.7,98.3 404.2,97.2 405.7,96.1 407.2,95 408.7,93.8 410.2,92.6 411.7,91.3 413.2,89.9 414.7,88.4 416.2,86.8 417.7,85.1 419.2,83.3 420.7,81.3 422.2,79 423.7,76.2 425.2,72.9 426.7,69.2 428.2,65.3 429.7,61.4 431.2,57.7 432.7,53.9 434.2,49.9 435.7,46.1 437.2,42.5 438.7,39.4 440.2,36.4 441.7,33.6 443.2,30.8 444.7,28.2 446.2,25.9 447.7,23.7 449.2,21.8 450.7,20 452.2,18.4 453.7,16.9 455.2,15.5 456.7,14.3 458.2,13.2 459.7,12.4 461.2,11.6 462.7,11 464.2,11 465.7,11.2 467.2,11.7 468.7,12.3 470.2,13.1 471.7,14.2 473.2,15.6 474.7,17.3 476.2,19.3 477.7,21.4 479.2,23.7 480.7,26.6 482.2,30.1 483.7,33.9 485.2,38 486.7,42.3 488.2,47.1 489.7,52.4 491.2,58 492.7,63.8 494.2,69.6 495.7,75.4 497.2,80.8 498.7,86 500.2,91.2 501.7,96.4 503.2,101.6 504.7,106.6 506.2,111.5 507.7,116.1 509.2,120.5 510.7,124.5 512.2,128.3 513.7,131.9 515.2,135.2 516.7,138.3 518.2,141.1 519.7,143.8 521.2,146.4 522.7,148.8 524.2,151 525.7,152.8 527.2,154.4 528.7,155.5 530.2,156.5 531.7,157.3 533.2,157.9 534.7,158.3 536.2,158.3 537.7,158.1 539.2,157.5 540.7,156.6 541,156.4" fill="none" stroke="#ff40ff" stroke-width="0.7" stroke-linejoin="round" />
<polyline points="315.7,159.4 317.2,158.2 318.7,157.2 320.2,156.2 321.7,155.4 323.2,154.7 324.7,154.1 326.2,153.6 327.7,153.1 329.2,152.8 330.7,152.5 332.2,152.1 333.7,151.6 335.2,150.8 336.7,150 338.2,149.1 339.7,148.1 341.2,147.2 342.7,146.1 344.2,144.8 345.7,143.3 347.2,141.8 348.7,140.3 350.2,138.8 351.7,137.5 353.2,136.2 354.7,134.9 356.2,133.6 357.7,132.3 359.2,130.9 360.7,129.5 362.2,128 363.7,126.4 365.2,124.8 366.7,123.2 368.2,121.6 369.7,119.9 371.2,118 372.7,115.8 374.2,113.6 375.7,111.5 377.2,109.8 378.7,108.6 380.2,107.6 381.7,106.7 383.2,105.9 384.7,105.2 386.2,104.5 387.7,103.9 389.2,103.5 390.7,103.1 392.2,102.7 393.7,102.3 395.2,101.9 396.7,101.5 398.2,100.9 399.7,100.3 401.2,99.7 402.7,99 404.2,98.3 405.7,97.4 407.2,96.5 408.7,95.4 410.2,94.2 411.7,92.9 413.2,91.6 414.7,90 416.2,88.4 417.7,86.6 419.2,84.8 420.7,82.8 422.2,80.5 423.7,78 425.2,74.9 426.7,71.4 428.2,67.5 429.7,63.5 431.2,59.6 432.7,55.8 434.2,51.9 435.7,48 437.2,44.1 438.7,40.6 440.2,37.4 441.7,34.5 443.2,31.6 444.7,28.9 446.2,26.4 447.7,24 449.2,21.9 450.7,20 452.2,18.3 453.7,16.8 455.2,15.4 456.7,14.1 458.2,12.9 459.7,11.9 461.2,11.1 462.7,10.3 464.2,9.7 465.7,9.3 467.2,9.3 468.7,9.6 470.2,10 471.7,10.5 473.2,11.2 474.7,12.2 476.2,13.4 477.7,14.8 479.2,16.4 480.7,18.1 482.2,19.9 483.7,21.8 485.2,24.2 486.7,26.9 488.2,29.9 489.7,33.1 491.2,36.5 492.7,40.1 494.2,44.1 495.7,48.5 497.2,53.3 498.7,58.3 500.2,63.4 501.7,68.6 503.2,73.6 504.7,78.3 506.2,83.1 507.7,87.9 509.2,92.7 510.7,97.5 512.2,102.1 513.7,106.6 515.2,110.8 516.7,114.7 518.2,118.4 519.7,121.8 521.2,125.1 522.7,128 524.2,130.8 525.7,133.5 527.2,136.1 528.7,138.6 530.2,141 531.7,143.1 533.2,144.9 534.7,146.6 536.2,148.2 537.7,149.9 539.2,151.4 540.7,152.8 541,153" fill="none" stroke="#30d0d0" stroke-width="0.7" stroke-linejoin="round" />
<polyline points="315.7,163.2 317.2,163.4 318.7,163.5 320.2,163.6 321.7,163.6 323.2,163.5 324.7,163.4 326.2,163.3 327.7,163.1 329.2,162.9 330.7,162.4 332.2,161.8 333.7,161.1 335.2,160.2 336.7,159.2 338.2,158.1 339.7,157 341.2,155.9 342.7,154.6 344.2,153.2 345.7,151.6 347.2,150 348.7,148.4 350.2,146.8 351.7,145.3 353.2,143.7 354.7,142.2 356.2,140.7 357.7,139.2 359.2,137.6 360.7,136 362.2,134.3 363.7,132.5 365.2,130.7 366.7,128.8 368.2,127 369.7,125.1 371.2,123.1 372.7,120.9 374.2,118.4 375.7,116 377.2,113.7 378.7,111.8 380.2,110.5 381.7,109.5 383.2,108.5 384.7,107.7 386.2,107.1 387.7,106.6 389.2,106.2 390.7,105.9 392.2,105.7 393.7,105.5 395.2,105.3 396.7,105.1 398.2,104.7 399.7,104.4 401.2,104 402.7,103.5 404.2,102.8 405.7,102 407.2,101 408.7,99.7 410.2,98.4 411.7,97 413.2,95.5 414.7,93.8 416.2,91.9 417.7,90 419.2,88 420.7,85.8 422.2,83.3 423.7,80.6 425.2,77.3 426.7,73.5 428.2,69.5 429.7,65.3 431.2,61.3 432.7,57.4 434.2,53.4 435.7,49.3 437.2,45.4 438.7,41.8 440.2,38.7 441.7,35.7 443.2,32.8 444.7,30.1 446.2,27.5 447.7,25.2 449.2,23.1 450.7,21.3 452.2,19.6 453.7,18.1 455.2,16.7 456.7,15.4 458.2,14.3 459.7,13.3 461.2,12.5 462.7,11.8 464.2,11.3 465.7,11.1 467.2,11.3 468.7,11.7 470.2,12.3 471.7,12.9 473.2,13.8 474.7,14.9 476.2,16.3 477.7,17.8 479.2,19.5 480.7,21.3 482.2,23.2 483.7,25.5 485.2,28.2 486.7,31.2 488.2,34.4 489.7,37.9 491.2,41.4 492.7,45.3 494.2,49.7 495.7,54.4 497.2,59.3 498.7,64.4 500.2,69.5 501.7,74.5 503.2,79.3 504.7,84 506.2,88.7 507.7,93.4 509.2,98.2 510.7,102.8 512.2,107.2 513.7,111.4 515.2,115.4 516.7,119 518.2,122.4 519.7,125.6 521.2,128.5 522.7,131.2 524.2,133.8 525.7,136.3 527.2,138.6 528.7,140.8 530.2,142.8 531.7,144.5 533.2,146 534.7,147.5 536.2,148.9 537.7,150.3 539.2,151.5 540.7,152.6 541,152.8" fill="none" stroke="#8080ff" stroke-width="0.7" stroke-linejoin="round" />
<polyline points="315.7,170.4 317.2,169.8 318.7,169.3 320.2,168.7 321.7,168.2 323.2,167.7 324.7,167.1 326.2,166.6 327.7,166.2 329.2,165.7 330.7,165.1 332.2,164.3 333.7,163.4 335.2,162.4 336.7,161.3 338.2,160.1 339.7,158.9 341.2,157.8 342.7,156.4 344.2,155 345.7,153.5 347.2,151.9 348.7,150.3 350.2,148.8 351.7,147.3 353.2,145.9 354.7,144.5 356.2,143.1 357.7,141.7 359.2,140.2 360.7,138.7 362.2,137.1 363.7,135.5 365.2,133.8 366.7,132.1 368.2,130.3 369.7,128.4 371.2,126.4 372.7,124.2 374.2,121.7 375.7,119.3 377.2,117.1 378.7,115.3 380.2,114 381.7,113 383.2,112.1 384.7,111.3 386.2,110.8 387.7,110.4 389.2,110 390.7,109.9 392.2,109.7 393.7,109.6 395.2,109.5 396.7,109.3 398.2,109 399.7,108.7 401.2,108.4 402.7,107.9 404.2,107.3 405.7,106.4 407.2,105.1 408.7,103.7 410.2,102.2 411.7,100.8 413.2,99.1 414.7,97.3 416.2,95.4 417.7,93.4 419.2,91.3 420.7,89 422.2,86.5 423.7,83.7 425.2,80.3 426.7,76.4 428.2,72.3 429.7,68.2 431.2,64.2 432.7,60.3 434.2,56.3 435.7,52.2 437.2,48.3 438.7,44.8 440.2,41.6 441.7,38.6 443.2,35.6 444.7,32.9 446.2,30.2 447.7,27.8 449.2,25.6 450.7,23.7 452.2,21.9 453.7,20.2 455.2,18.6 456.7,17.1 458.2,15.8 459.7,14.7 461.2,13.8 462.7,13 464.2,12.3 465.7,12.1 467.2,12.2 468.7,12.5 470.2,13 471.7,13.6 473.2,14.5 474.7,15.6 476.2,16.9 477.7,18.5 479.2,20.2 480.7,22 482.2,24 483.7,26.4 485.2,29.2 486.7,32.4 488.2,35.8 489.7,39.3 491.2,43 492.7,47.2 494.2,51.7 495.7,56.6 497.2,61.7 498.7,66.9 500.2,72.1 501.7,77.3 503.2,82.2 504.7,87 506.2,91.9 507.7,96.9 509.2,101.8 510.7,106.6 512.2,111.3 513.7,115.9 515.2,120.2 516.7,124.2 518.2,128.1 519.7,131.7 521.2,135.2 522.7,138.4 524.2,141.6 525.7,144.7 527.2,147.7 528.7,150.6 530.2,153.3 531.7,155.7 533.2,157.9 534.7,159.9 536.2,161.8 537.7,163.7 539.2,165.5 540.7,167.1 541,167.4" fill="none" stroke="#555555" stroke-width="0.7" stroke-linejoin="round" />
<polyline points="315.7,163.4 317.2,163.1 318.7,162.7 320.2,162.3 321.7,161.9 323.2,161.3 324.7,160.4 326.2,159.2 327.7,157.9 329.2,156.6 330.7,155.3 332.2,153.9 333.7,152.4 335.2,150.8 336.7,149.1 338.2,147.5 339.7,146 341.2,144.6 342.7,143.2 344.2,141.8 345.7,140.4 347.2,139 348.7,137.6 350.2,136.1 351.7,134.5 353.2,132.9 354.7,131.3 356.2,129.6 357.7,127.9 359.2,126.1 360.7,124.3 362.2,122.4 363.7,120.3 365.2,118 366.7,115.8 368.2,113.8 369.7,112.1 371.2,110.7 372.7,109.7 374.2,108.8 375.7,107.9 377.2,107.2 378.7,106.6 380.2,106 381.7,105.5 383.2,105.1 384.7,104.7 386.2,104.3 387.7,104 389.2,103.7 390.7,103.4 392.2,103 393.7,102.6 395.2,102.1 396.7,101.6 398.2,101 399.7,100.4 401.2,99.8 402.7,99 404.2,98 405.7,97 407.2,95.9 408.7,94.8 410.2,93.5 411.7,92.1 413.2,90.6 414.7,89 416.2,87.3 417.7,85.5 419.2,83.5 420.7,81.3 422.2,78.8 423.7,75.7 425.2,72.2 426.7,68.3 428.2,64.4 429.7,60.5 431.2,56.8 432.7,52.9 434.2,48.9 435.7,45.1 437.2,41.5 438.7,38.4 440.2,35.5 441.7,32.6 443.2,30 444.7,27.4 446.2,25.1 447.7,23 449.2,21.2 450.7,19.6 452.2,18 453.7,16.6 455.2,15.3 456.7,14.2 458.2,13.3 459.7,12.5 461.2,11.8 462.7,11.3 464.2,11.2 465.7,11.5 467.2,12 468.7,12.6 470.2,13.4 471.7,14.4 473.2,15.8 474.7,17.4 476.2,19.2 477.7,21.2 479.2,23.3 480.7,25.7 482.2,28.7 483.7,32.1 485.2,35.9 486.7,39.8 488.2,43.9 489.7,48.5 491.2,53.6 492.7,58.9 494.2,64.5 495.7,70 497.2,75.5 498.7,80.7 500.2,85.6 501.7,90.7 503.2,95.7 504.7,100.7 506.2,105.6 507.7,110.3 509.2,114.8 510.7,119.1 512.2,123 513.7,126.7 515.2,130.1 516.7,133.3 518.2,136.3 519.7,139 521.2,141.7 522.7,144.3 524.2,146.6 525.7,148.7 527.2,150.6 528.7,152 530.2,153.4 531.7,154.7 533.2,155.8 534.7,156.8 536.2,157.7 537.7,158.3 539.2,158.6 540.7,158.8 541,158.7" fill="none" stroke="#a0a000" stroke-width="0.7" stroke-linejoin="round" />
<polyline points="315.7,168.7 317.2,171 318.7,172.8 320.2,174.3 321.7,175.5 323.2,176.5 324.7,177.1 326.2,177.6 327.7,177.7 329.2,177.6 330.7,177.1 332.2,176.1 333.7,174.9 335.2,173.5 336.7,172 338.2,170.3 339.7,168.5 341.2,166.5 342.7,164.3 344.2,162.2 345.7,160.2 347.2,158.1 348.7,156.2 350.2,154.2 351.7,152.2 353.2,150.1 354.7,148.1 356.2,145.9 357.7,143.7 359.2,141.5 360.7,139.2 362.2,136.8 363.7,134.5 365.2,132.1 366.7,129.7 368.2,127.2 369.7,124.7 371.2,122.1 372.7,119.4 374.2,116.7 375.7,114.3 377.2,112.2 378.7,110.5 380.2,109.2 381.7,108.1 383.2,107.1 384.7,106.2 386.2,105.4 387.7,104.8 389.2,104.3 390.7,103.9 392.2,103.6 393.7,103.4 395.2,103.3 396.7,103.1 398.2,102.9 399.7,102.7 401.2,102.4 402.7,102.2 404.2,101.8 405.7,101.4 407.2,100.9 408.7,100.1 410.2,99.2 411.7,98.2 413.2,97.1 414.7,95.8 416.2,94.4 417.7,92.8 419.2,91.1 420.7,89.3 422.2,87.3 423.7,85.1 425.2,82.6 426.7,79.5 428.2,75.8 429.7,71.9 431.2,67.8 432.7,63.8 434.2,59.9 435.7,55.8 437.2,51.7 438.7,47.8 440.2,44.2 441.7,41 443.2,37.9 444.7,34.9 446.2,32 447.7,29.4 449.2,26.9 450.7,24.8 452.2,22.8 453.7,20.9 455.2,19.2 456.7,17.6 458.2,16.1 459.7,14.9 461.2,13.9 462.7,13 464.2,12.3 465.7,12 467.2,12.1 468.7,12.5 470.2,13 471.7,13.6 473.2,14.6 474.7,15.8 476.2,17.4 477.7,19.1 479.2,21 480.7,23.1 482.2,25.6 483.7,28.7 485.2,32.1 486.7,35.9 488.2,39.8 489.7,43.9 491.2,48.6 492.7,53.7 494.2,59.1 495.7,64.6 497.2,70.1 498.7,75.5 500.2,80.6 501.7,85.5 503.2,90.5 504.7,95.5 506.2,100.5 507.7,105.3 509.2,110 510.7,114.4 512.2,118.6 513.7,122.4 515.2,126.1 516.7,129.5 518.2,132.7 519.7,135.7 521.2,138.5 522.7,141.2 524.2,143.8 525.7,146.2 527.2,148.5 528.7,150.6 530.2,152.4 531.7,154 533.2,155.4 534.7,156.7 536.2,157.9 537.7,159 539.2,160 540.7,160.8 541,160.9" fill="none" stroke="#0060c0" stroke-width="0.7" stroke-linejoin="round" />
<polyline points="315.7,162.9 317.2,162.3 318.7,161.7 320.2,161.1 321.7,160.6 323.2,159.9 324.7,158.9 326.2,157.8 327.7,156.6 329.2,155.4 330.7,154.2 332.2,153.1 333.7,151.8 335.2,150.3 336.7,148.9 338.2,147.4 339.7,146 341.2,144.7 342.7,143.4 344.2,142.2 345.7,140.9 347.2,139.6 348.7,138.3 350.2,137 351.7,135.5 353.2,134.1 354.7,132.5 356.2,130.9 357.7,129.3 359.2,127.6 360.7,125.8 362.2,123.9 363.7,121.8 365.2,119.5 366.7,117.3 368.2,115.2 369.7,113.4 371.2,112.2 372.7,111.1 374.2,110.1 375.7,109.3 377.2,108.5 378.7,107.8 380.2,107.2 381.7,106.7 383.2,106.2 384.7,105.8 386.2,105.4 387.7,105 389.2,104.6 390.7,104.2 392.2,103.7 393.7,103.1 395.2,102.6 396.7,102 398.2,101.3 399.7,100.5 401.2,99.7 402.7,98.6 404.2,97.5 405.7,96.4 407.2,95.2 408.7,93.9 410.2,92.5 411.7,91 413.2,89.4 414.7,87.7 416.2,86 417.7,84 419.2,81.8 420.7,79.3 422.2,76.2 423.7,72.7 425.2,68.9 426.7,65.1 428.2,61.4 429.7,57.7 431.2,53.9 432.7,50.1 434.2,46.4 435.7,43.1 437.2,40.1 438.7,37.2 440.2,34.5 441.7,31.8 443.2,29.3 444.7,27 446.2,24.9 447.7,23 449.2,21.3 450.7,19.6 452.2,18.1 453.7,16.6 455.2,15.3 456.7,14.1 458.2,13.2 459.7,12.3 461.2,11.6 462.7,11.2 464.2,11.3 465.7,11.5 467.2,12 468.7,12.5 470.2,13.2 471.7,14.3 473.2,15.6 474.7,17.2 476.2,19 477.7,21 479.2,23.2 480.7,25.9 482.2,29.1 483.7,32.7 485.2,36.5 486.7,40.5 488.2,44.8 489.7,49.7 491.2,54.9 492.7,60.3 494.2,65.8 495.7,71.3 497.2,76.5 498.7,81.5 500.2,86.4 501.7,91.4 503.2,96.4 504.7,101.3 506.2,106.1 507.7,110.7 509.2,115.2 510.7,119.3 512.2,123.1 513.7,126.7 515.2,130.1 516.7,133.2 518.2,136 519.7,138.8 521.2,141.4 522.7,143.9 524.2,146.1 525.7,148 527.2,149.6 528.7,150.9 530.2,152 531.7,153 533.2,153.7 534.7,154.3 536.2,154.5 537.7,154.5 539.2,154.1 540.7,153.3 541,153.1" fill="none" stroke="#c06020" stroke-width="0.7" stroke-linejoin="round" />
<polyline points="315.7,156.8 317.2,156.4 318.7,156 320.2,155.7 321.7,155.5 323.2,155.3 324.7,154.8 326.2,154.2 327.7,153.4 329.2,152.5 330.7,151.6 332.2,150.8 333.7,149.9 335.2,148.9 336.7,147.7 338.2,146.6 339.7,145.5 341.2,144.4 342.7,143.4 344.2,142.4 345.7,141.4 347.2,140.4 348.7,139.4 350.2,138.3 351.7,137.2 353.2,136.1 354.7,134.8 356.2,133.5 357.7,132.2 359.2,130.8 360.7,129.3 362.2,127.8 363.7,126.2 365.2,124.3 366.7,122.2 368.2,120.1 369.7,118 371.2,116.1 372.7,114.6 374.2,113.4 375.7,112.3 377.2,111.2 378.7,110.2 380.2,109.2 381.7,108.3 383.2,107.4 384.7,106.6 386.2,105.9 387.7,105.2 389.2,104.5 390.7,103.8 392.2,103 393.7,102.3 395.2,101.4 396.7,100.5 398.2,99.6 399.7,98.7 401.2,97.7 402.7,96.6 404.2,95.5 405.7,94.4 407.2,93.3 408.7,92.3 410.2,91.1 411.7,89.9 413.2,88.5 414.7,87.1 416.2,85.5 417.7,83.9 419.2,82.2 420.7,80.3 422.2,78.1 423.7,75.6 425.2,72.5 426.7,69 428.2,65.2 429.7,61.4 431.2,57.7 432.7,54.1 434.2,50.3 435.7,46.5 437.2,42.9 438.7,39.7 440.2,36.8 441.7,34 443.2,31.3 444.7,28.8 446.2,26.4 447.7,24.3 449.2,22.3 450.7,20.7 452.2,19.1 453.7,17.6 455.2,16.3 456.7,15 458.2,14 459.7,13.1 461.2,12.4 462.7,11.7 464.2,11.3 465.7,11.3 467.2,11.7 468.7,12.2 470.2,12.8 471.7,13.6 473.2,14.7 474.7,16.1 476.2,17.8 477.7,19.6 479.2,21.5 480.7,23.6 482.2,26.1 483.7,29.1 485.2,32.5 486.7,36.1 488.2,40 489.7,44 491.2,48.5 492.7,53.4 494.2,58.6 495.7,64 497.2,69.5 498.7,74.9 500.2,80.1 501.7,85.1 503.2,90.1 504.7,95.2 506.2,100.2 507.7,105.2 509.2,110 510.7,114.6 512.2,119 513.7,123.1 515.2,126.9 516.7,130.6 518.2,134 519.7,137.1 521.2,140 522.7,142.9 524.2,145.7 525.7,148.3 527.2,150.7 528.7,152.8 530.2,154.6 531.7,156.1 533.2,157.6 534.7,159 536.2,160.3 537.7,161.3 539.2,162.2 540.7,162.8 541,162.9" fill="none" stroke="#ff8080" stroke-width="0.7" stroke-linejoin="round" />
<polyline points="315.7,163.8 317.2,164.2 318.7,164.4 320.2,164.6 321.7,164.7 323.2,164.7 324.7,164.6 326.2,164.2 327.7,163.6 329.2,162.8 330.7,161.9 332.2,160.8 333.7,159.7 335.2,158.6 336.7,157.5 338.2,156.1 339.7,154.6 341.2,153 342.7,151.4 344.2,149.8 345.7,148.2 347.2,146.6 348.7,145.1 350.2,143.6 351.7,142.1 353.2,140.5 354.7,138.9 356.2,137.2 357.7,135.4 359.2,133.6 360.7,131.7 362.2,129.8 363.7,127.8 365.2,125.8 366.7,123.8 368.2,121.6 369.7,119.2 371.2,116.8 372.7,114.5 374.2,112.4 375.7,110.6 377.2,109.4 378.7,108.3 380.2,107.4 381.7,106.6 383.2,105.9 384.7,105.2 386.2,104.7 387.7,104.3 389.2,104 390.7,103.7 392.2,103.5 393.7,103.2 395.2,102.9 396.7,102.6 398.2,102.2 399.7,101.8 401.2,101.3 402.7,100.8 404.2,100.2 405.7,99.4 407.2,98.4 408.7,97.3 410.2,96.2 411.7,94.9 413.2,93.5 414.7,91.9 416.2,90.3 417.7,88.5 419.2,86.6 420.7,84.5 422.2,82.1 423.7,79.3 425.2,75.9 426.7,72.1 428.2,68.1 429.7,64.2 431.2,60.4 432.7,56.5 434.2,52.6 435.7,48.7 437.2,45 438.7,41.7 440.2,38.6 441.7,35.7 443.2,32.9 444.7,30.2 446.2,27.7 447.7,25.4 449.2,23.4 450.7,21.5 452.2,19.8 453.7,18.2 455.2,16.7 456.7,15.3 458.2,14.1 459.7,13.1 461.2,12.3 462.7,11.5 464.2,11 465.7,11 467.2,11.3 468.7,11.7 470.2,12.3 471.7,13 473.2,14.1 474.7,15.4 476.2,17 477.7,18.8 479.2,20.8 480.7,22.8 482.2,25.4 483.7,28.4 485.2,31.8 486.7,35.5 488.2,39.3 489.7,43.4 491.2,47.9 492.7,52.9 494.2,58.2 495.7,63.7 497.2,69.2 498.7,74.7 500.2,80.1 501.7,85.1 503.2,90.2 504.7,95.4 506.2,100.5 507.7,105.5 509.2,110.4 510.7,115.1 512.2,119.6 513.7,123.7 515.2,127.5 516.7,131 518.2,134.3 519.7,137.3 521.2,140 522.7,142.6 524.2,145 525.7,147.1 527.2,148.9 528.7,150.3 530.2,151.1 531.7,151.7 533.2,152.1 534.7,152.1 536.2,151.8 537.7,151.1 539.2,150 540.7,148.5 541,148.1" fill="none" stroke="#40c080" stroke-width="0.7" stroke-linejoin="round" />
<polyline points="315.7,150.3 317.2,149.5 318.7,149 320.2,148.5 321.7,148.2 323.2,147.9 324.7,147.4 326.2,146.7 327.7,145.8 329.2,144.9 330.7,144 332.2,143.1 333.7,142.1 335.2,140.9 336.7,139.8 338.2,138.7 339.7,137.8 341.2,137 342.7,136.2 344.2,135.3 345.7,134.4 347.2,133.5 348.7,132.5 350.2,131.5 351.7,130.4 353.2,129.4 354.7,128.2 356.2,127.1 357.7,125.8 359.2,124.6 360.7,123.2 362.2,121.5 363.7,119.8 365.2,118.1 366.7,116.4 368.2,115 369.7,113.9 371.2,113 372.7,112.2 374.2,111.4 375.7,110.6 377.2,109.8 378.7,109.1 380.2,108.4 381.7,107.7 383.2,107 384.7,106.4 386.2,105.7 387.7,105.1 389.2,104.4 390.7,103.6 392.2,102.8 393.7,102 395.2,101.1 396.7,100.1 398.2,99.1 399.7,98.1 401.2,97 402.7,95.9 404.2,94.7 405.7,93.5 407.2,92.4 408.7,91.3 410.2,90.2 411.7,88.9 413.2,87.5 414.7,86.1 416.2,84.6 417.7,83 419.2,81.3 420.7,79.4 422.2,77.3 423.7,74.7 425.2,71.6 426.7,68.1 428.2,64.4 429.7,60.5 431.2,56.8 432.7,53.1 434.2,49.2 435.7,45.4 437.2,41.7 438.7,38.4 440.2,35.4 441.7,32.5 443.2,29.7 444.7,27.1 446.2,24.6 447.7,22.3 449.2,20.3 450.7,18.4 452.2,16.8 453.7,15.2 455.2,13.8 456.7,12.5 458.2,11.4 459.7,10.5 461.2,9.6 462.7,8.9 464.2,8.4 465.7,8.5 467.2,8.8 468.7,9.3 470.2,9.8 471.7,10.5 473.2,11.6 474.7,13 476.2,14.7 477.7,16.6 479.2,18.7 480.7,21 482.2,23.9 483.7,27.2 485.2,30.8 486.7,34.7 488.2,38.7 489.7,43.2 491.2,48.3 492.7,53.7 494.2,59.3 495.7,64.9 497.2,70.5 498.7,75.8 500.2,80.9 501.7,86.1 503.2,91.2 504.7,96.4 506.2,101.4 507.7,106.3 509.2,110.9 510.7,115.3 512.2,119.3 513.7,123.1 515.2,126.6 516.7,129.9 518.2,132.9 519.7,135.7 521.2,138.4 522.7,141 524.2,143.3 525.7,145.4 527.2,147.2 528.7,148.7 530.2,150 531.7,151.2 533.2,152.2 534.7,153.1 536.2,153.7 537.7,154.1 539.2,154.2 540.7,154 541,153.9" fill="none" stroke="#6040c0" stroke-width="0.7" stroke-linejoin="round" />
<polyline points="315.7,152.7 317.2,152.5 318.7,152.3 320.2,152.2 321.7,152 323.2,151.9 324.7,151.8 326.2,151.7 327.7,151.5 329.2,151.1 330.7,150.4 332.2,149.6 333.7,148.6 335.2,147.7 336.7,146.7 338.2,145.7 339.7,144.4 341.2,143.1 342.7,141.7 344.2,140.2 345.7,138.8 347.2,137.4 348.7,136.1 350.2,134.9 351.7,133.6 353.2,132.3 354.7,131 356.2,129.6 357.7,128.2 359.2,126.8 360.7,125.3 362.2,123.9 363.7,122.4 365.2,120.8 366.7,119.3 368.2,117.6 369.7,115.8 371.2,114 372.7,112.3 374.2,110.8 375.7,109.7 377.2,109 378.7,108.3 380.2,107.8 381.7,107.3 383.2,107 384.7,106.6 386.2,106.4 387.7,106.2 389.2,106.1 390.7,106.1 392.2,106.1 393.7,106 395.2,106 396.7,105.8 398.2,105.6 399.7,105.3 401.2,105 402.7,104.6 404.2,104 405.7,103.3 407.2,102.3 408.7,101.1 410.2,99.8 411.7,98.4 413.2,97 414.7,95.3 416.2,93.6 417.7,91.7 419.2,89.7 420.7,87.6 422.2,85.4 423.7,82.8 425.2,79.9 426.7,76.5 428.2,72.6 429.7,68.6 431.2,64.4 432.7,60.5 434.2,56.5 435.7,52.4 437.2,48.3 438.7,44.4 440.2,40.8 441.7,37.6 443.2,34.5 444.7,31.5 446.2,28.7 447.7,26.1 449.2,23.7 450.7,21.5 452.2,19.6 453.7,17.9 455.2,16.3 456.7,14.9 458.2,13.5 459.7,12.4 461.2,11.4 462.7,10.5 464.2,9.8 465.7,9.2 467.2,9.1 468.7,9.3 470.2,9.7 471.7,10.2 473.2,10.8 474.7,11.7 476.2,13 477.7,14.4 479.2,16.1 480.7,17.9 482.2,19.7 483.7,21.8 485.2,24.2 486.7,27 488.2,30.2 489.7,33.6 491.2,37.2 492.7,41 494.2,45.3 495.7,50 497.2,55 498.7,60.3 500.2,65.7 501.7,71 503.2,76.2 504.7,81.2 506.2,86.1 507.7,91.1 509.2,96.1 510.7,101 512.2,105.8 513.7,110.4 515.2,114.7 516.7,118.8 518.2,122.5 519.7,126.1 521.2,129.4 522.7,132.4 524.2,135.1 525.7,137.8 527.2,140.3 528.7,142.7 530.2,144.8 531.7,146.6 533.2,148.1 534.7,149.3 536.2,150.4 537.7,151.3 539.2,152.1 540.7,152.6 541,152.7" fill="none" stroke="#00c0ff" stroke-width="0.7" stroke-linejoin="round" />
<polyline points="315.7,167.1 317.2,166.6 318.7,166.2 320.2,165.7 321.7,165.3 323.2,164.8 324.7,164.4 326.2,163.9 327.7,163.1 329.2,162.2 330.7,161.1 332.2,160 333.7,158.8 335.2,157.6 336.7,156.5 338.2,155.2 339.7,153.8 341.2,152.2 342.7,150.7 344.2,149.2 345.7,147.7 347.2,146.3 348.7,144.9 350.2,143.6 351.7,142.2 353.2,140.9 354.7,139.5 356.2,138.1 357.7,136.6 359.2,135 360.7,133.4 362.2,131.8 363.7,130.2 365.2,128.5 366.7,126.7 368.2,124.9 369.7,122.8 371.2,120.6 372.7,118.4 374.2,116.3 375.7,114.5 377.2,113.1 378.7,112 380.2,111 381.7,110.2 383.2,109.4 384.7,108.8 386.2,108.3 387.7,107.8 389.2,107.5 390.7,107.2 392.2,107 393.7,106.7 395.2,106.5 396.7,106.1 398.2,105.7 399.7,105.3 401.2,104.8 402.7,104.2 404.2,103.5 405.7,102.6 407.2,101.5 408.7,100.2 410.2,98.9 411.7,97.5 413.2,95.9 414.7,94.2 416.2,92.4 417.7,90.5 419.2,88.5 420.7,86.4 422.2,84 423.7,81.3 425.2,78.2 426.7,74.5 428.2,70.5 429.7,66.3 431.2,62.3 432.7,58.4 434.2,54.3 435.7,50.2 437.2,46.3 438.7,42.6 440.2,39.3 441.7,36.3 443.2,33.3 444.7,30.5 446.2,27.9 447.7,25.5 449.2,23.4 450.7,21.5 452.2,19.8 453.7,18.2 455.2,16.8 456.7,15.4 458.2,14.3 459.7,13.3 461.2,12.5 462.7,11.8 464.2,11.2 465.7,11.1 467.2,11.4 468.7,11.9 470.2,12.5 471.7,13.2 473.2,14.2 474.7,15.5 476.2,17 477.7,18.7 479.2,20.5 480.7,22.5 482.2,24.7 483.7,27.5 485.2,30.6 486.7,34 488.2,37.6 489.7,41.4 491.2,45.5 492.7,50 494.2,54.9 495.7,60.1 497.2,65.4 498.7,70.6 500.2,75.8 501.7,80.7 503.2,85.5 504.7,90.4 506.2,95.2 507.7,100.1 509.2,104.8 510.7,109.4 512.2,113.7 513.7,117.8 515.2,121.6 516.7,125.2 518.2,128.6 519.7,131.7 521.2,134.6 522.7,137.5 524.2,140.2 525.7,142.9 527.2,145.5 528.7,147.9 530.2,150.1 531.7,152 533.2,153.8 534.7,155.7 536.2,157.5 537.7,159.3 539.2,161 540.7,162.6 541,163" fill="none" stroke="#c0c000" stroke-width="0.7" stroke-linejoin="round" />
<polyline points="315.7,164 317.2,163.8 318.7,163.6 320.2,163.4 321.7,163.2 323.2,162.7 324.7,161.9 326.2,160.8 327.7,159.5 329.2,158.1 330.7,156.8 332.2,155.3 333.7,153.6 335.2,151.8 336.7,150.1 338.2,148.4 339.7,146.8 341.2,145.3 342.7,143.8 344.2,142.4 345.7,140.9 347.2,139.4 348.7,137.8 350.2,136.2 351.7,134.5 353.2,132.8 354.7,131 356.2,129.2 357.7,127.4 359.2,125.5 360.7,123.3 362.2,121.1 363.7,118.8 365.2,116.6 366.7,114.8 368.2,113.3 369.7,112.2 371.2,111.2 372.7,110.3 374.2,109.5 375.7,108.8 377.2,108.2 378.7,107.7 380.2,107.3 381.7,106.9 383.2,106.6 384.7,106.4 386.2,106.1 387.7,105.9 389.2,105.6 390.7,105.3 392.2,104.9 393.7,104.5 395.2,104.1 396.7,103.6 398.2,103 399.7,102.4 401.2,101.6 402.7,100.7 404.2,99.6 405.7,98.5 407.2,97.2 408.7,95.9 410.2,94.4 411.7,92.8 413.2,91.1 414.7,89.4 416.2,87.5 417.7,85.6 419.2,83.4 420.7,80.9 422.2,78 423.7,74.6 425.2,70.8 426.7,66.9 428.2,63 429.7,59.3 431.2,55.5 432.7,51.5 434.2,47.7 435.7,44 437.2,40.7 438.7,37.7 440.2,34.8 441.7,32 443.2,29.4 444.7,26.9 446.2,24.7 447.7,22.6 449.2,20.9 450.7,19.3 452.2,17.8 453.7,16.4 455.2,15.1 456.7,14 458.2,13.1 459.7,12.4 461.2,11.7 462.7,11.2 464.2,11.1 465.7,11.4 467.2,11.9 468.7,12.5 470.2,13.2 471.7,14.2 473.2,15.6 474.7,17.1 476.2,18.9 477.7,20.8 479.2,22.8 480.7,25.2 482.2,28 483.7,31.3 485.2,34.8 486.7,38.6 488.2,42.5 489.7,46.9 491.2,51.6 492.7,56.7 494.2,62 495.7,67.3 497.2,72.6 498.7,77.8 500.2,82.6 501.7,87.5 503.2,92.3 504.7,97.2 506.2,102 507.7,106.7 509.2,111.2 510.7,115.5 512.2,119.5 513.7,123.3 515.2,126.8 516.7,130.1 518.2,133.1 519.7,135.9 521.2,138.6 522.7,141.2 524.2,143.7 525.7,146 527.2,148.1 528.7,149.9 530.2,151.3 531.7,152.7 533.2,154.1 534.7,155.3 536.2,156.4 537.7,157.3 539.2,158.1 540.7,158.6 541,158.7" fill="none" stroke="#ff60a0" stroke-width="0.7" stroke-linejoin="round" />
<polyline points="315.7,155.6 317.2,156.7 318.7,157.7 320.2,158.6 321.7,159.2 323.2,159.6 324.7,159.5 326.2,159 327.7,158.3 329.2,157.3 330.7,156.4 332.2,155.2 333.7,153.9 335.2,152.3 336.7,150.6 338.2,149 339.7,147.3 341.2,145.7 342.7,144.2 344.2,142.6 345.7,141 347.2,139.4 348.7,137.7 350.2,135.9 351.7,134 353.2,132.1 354.7,130.1 356.2,128.1 357.7,126 359.2,123.9 360.7,121.7 362.2,119.2 363.7,116.7 365.2,114.1 366.7,111.8 368.2,109.9 369.7,108.5 371.2,107.4 372.7,106.5 374.2,105.7 375.7,105 377.2,104.5 378.7,104.1 380.2,103.8 381.7,103.7 383.2,103.6 384.7,103.5 386.2,103.4 387.7,103.4 389.2,103.3 390.7,103.2 392.2,103.1 393.7,103 395.2,102.8 396.7,102.6 398.2,102.3 399.7,102 401.2,101.4 402.7,100.8 404.2,100 405.7,99 407.2,97.9 408.7,96.6 410.2,95.2 411.7,93.7 413.2,92 414.7,90.3 416.2,88.4 417.7,86.3 419.2,84 420.7,81.4 422.2,78.3 423.7,74.6 425.2,70.8 426.7,66.8 428.2,62.9 429.7,59.1 431.2,55.2 432.7,51.2 434.2,47.4 435.7,43.8 437.2,40.6 438.7,37.6 440.2,34.7 441.7,31.9 443.2,29.3 444.7,26.9 446.2,24.7 447.7,22.7 449.2,21 450.7,19.3 452.2,17.8 453.7,16.4 455.2,15.1 456.7,14 458.2,13.1 459.7,12.3 461.2,11.6 462.7,11.2 464.2,11.2 465.7,11.5 467.2,12 468.7,12.6 470.2,13.3 471.7,14.4 473.2,15.7 474.7,17.3 476.2,19.1 477.7,21 479.2,23.1 480.7,25.7 482.2,28.7 483.7,32.1 485.2,35.7 486.7,39.6 488.2,43.7 489.7,48.3 491.2,53.2 492.7,58.5 494.2,63.8 495.7,69.2 497.2,74.4 498.7,79.3 500.2,84.1 501.7,88.9 503.2,93.8 504.7,98.6 506.2,103.3 507.7,107.8 509.2,112.2 510.7,116.2 512.2,119.9 513.7,123.4 515.2,126.6 516.7,129.6 518.2,132.3 519.7,134.9 521.2,137.4 522.7,139.8 524.2,142 525.7,143.9 527.2,145.5 528.7,146.8 530.2,148.2 531.7,149.4 533.2,150.6 534.7,151.6 536.2,152.4 537.7,153 539.2,153.5 540.7,153.6 541,153.6" fill="none" stroke="#222222" stroke-width="0.7" stroke-linejoin="round" />
<polyline points="315.7,156.3 317.2,157.1 318.7,157.8 320.2,158.4 321.7,158.9 323.2,159.3 324.7,159.6 326.2,159.6 327.7,159.3 329.2,158.6 330.7,157.7 332.2,156.8 333.7,155.7 335.2,154.6 336.7,153.2 338.2,151.7 339.7,150.1 341.2,148.5 342.7,146.9 344.2,145.4 345.7,144 347.2,142.5 348.7,141 350.2,139.5 351.7,137.9 353.2,136.3 354.7,134.6 356.2,132.8 357.7,131 359.2,129.2 360.7,127.3 362.2,125.4 363.7,123.4 365.2,121.2 366.7,118.9 368.2,116.6 369.7,114.5 371.2,112.7 372.7,111.3 374.2,110.2 375.7,109.3 377.2,108.5 378.7,107.8 380.2,107.2 381.7,106.7 383.2,106.3 384.7,106 386.2,105.8 387.7,105.6 389.2,105.4 390.7,105.3 392.2,105.1 393.7,104.9 395.2,104.7 396.7,104.4 398.2,104 399.7,103.7 401.2,103.2 402.7,102.6 404.2,101.9 405.7,101 407.2,99.8 408.7,98.6 410.2,97.3 411.7,95.9 413.2,94.4 414.7,92.7 416.2,90.9 417.7,89 419.2,87 420.7,84.8 422.2,82.4 423.7,79.5 425.2,76.1 426.7,72.3 428.2,68.3 429.7,64.3 431.2,60.4 432.7,56.6 434.2,52.6 435.7,48.6 437.2,44.9 438.7,41.4 440.2,38.4 441.7,35.4 443.2,32.6 444.7,29.9 446.2,27.5 447.7,25.2 449.2,23.2 450.7,21.4 452.2,19.8 453.7,18.3 455.2,16.9 456.7,15.7 458.2,14.6 459.7,13.7 461.2,12.9 462.7,12.2 464.2,11.8 465.7,11.8 467.2,12.1 468.7,12.6 470.2,13.2 471.7,14 473.2,15 474.7,16.3 476.2,17.8 477.7,19.5 479.2,21.3 480.7,23.2 482.2,25.5 483.7,28.2 485.2,31.2 486.7,34.6 488.2,38.1 489.7,41.8 491.2,45.8 492.7,50.3 494.2,55.1 495.7,60.2 497.2,65.3 498.7,70.4 500.2,75.5 501.7,80.2 503.2,84.9 504.7,89.7 506.2,94.5 507.7,99.2 509.2,103.9 510.7,108.3 512.2,112.6 513.7,116.6 515.2,120.4 516.7,123.9 518.2,127.3 519.7,130.5 521.2,133.4 522.7,136.3 524.2,139.3 525.7,142.1 527.2,144.9 528.7,147.6 530.2,150.1 531.7,152.5 533.2,155 534.7,157.5 536.2,160 537.7,162.7 539.2,165.3 540.7,168 541,168.5" fill="none" stroke="#2080ff" stroke-width="0.7" stroke-linejoin="round" />
<polyline points="315.7,165.4 317.2,165.2 318.7,165.1 320.2,165 321.7,164.9 323.2,164.8 324.7,164.8 326.2,164.7 327.7,164.6 329.2,164.6 330.7,164.3 332.2,163.8 333.7,163.2 335.2,162.5 336.7,161.7 338.2,160.8 339.7,159.9 341.2,159 342.7,157.9 344.2,156.6 345.7,155.4 347.2,154.1 348.7,152.8 350.2,151.6 351.7,150.4 353.2,149.2 354.7,148.1 356.2,146.9 357.7,145.6 359.2,144.3 360.7,143 362.2,141.5 363.7,140 365.2,138.4 366.7,136.7 368.2,134.8 369.7,132.9 371.2,130.8 372.7,128.5 374.2,125.9 375.7,123.3 377.2,120.7 378.7,118.3 380.2,116.4 381.7,114.8 383.2,113.4 384.7,112.2 386.2,111.1 387.7,110.1 389.2,109.3 390.7,108.5 392.2,107.8 393.7,107.1 395.2,106.5 396.7,105.8 398.2,105.1 399.7,104.3 401.2,103.5 402.7,102.7 404.2,101.8 405.7,100.8 407.2,99.7 408.7,98.5 410.2,97.1 411.7,95.7 413.2,94.3 414.7,92.7 416.2,91 417.7,89.2 419.2,87.4 420.7,85.4 422.2,83.2 423.7,80.8 425.2,78 426.7,74.7 428.2,70.8 429.7,66.7 431.2,62.6 432.7,58.7 434.2,54.7 435.7,50.7 437.2,46.6 438.7,42.8 440.2,39.4 441.7,36.4 443.2,33.4 444.7,30.6 446.2,27.9 447.7,25.5 449.2,23.3 450.7,21.3 452.2,19.6 453.7,18 455.2,16.5 456.7,15.2 458.2,14 459.7,13 461.2,12.2 462.7,11.4 464.2,10.8 465.7,10.7 467.2,11 468.7,11.4 470.2,12.1 471.7,12.8 473.2,13.8 474.7,15.2 476.2,16.8 477.7,18.6 479.2,20.5 480.7,22.6 482.2,25 483.7,27.9 485.2,31.2 486.7,34.9 488.2,38.7 489.7,42.8 491.2,47.2 492.7,52.1 494.2,57.3 495.7,62.8 497.2,68.4 498.7,74 500.2,79.5 501.7,84.6 503.2,89.8 504.7,95 506.2,100.2 507.7,105.3 509.2,110.3 510.7,115.1 512.2,119.8 513.7,124.1 515.2,128.1 516.7,132 518.2,135.6 519.7,139 521.2,142.1 522.7,145.2 524.2,148.2 525.7,151.1 527.2,153.7 528.7,156.1 530.2,158.2 531.7,159.9 533.2,161.6 534.7,163.1 536.2,164.5 537.7,165.7 539.2,166.7 540.7,167.5 541,167.6" fill="none" stroke="#9040ff" stroke-width="0.7" stroke-linejoin="round" />
<polyline points="315.7,162 317.2,162 318.7,161.9 320.2,161.9 321.7,161.8 323.2,161.7 324.7,161.5 326.2,161.3 327.7,160.7 329.2,160 330.7,159 332.2,158 333.7,156.9 335.2,155.9 336.7,154.7 338.2,153.3 339.7,151.9 341.2,150.3 342.7,148.8 344.2,147.3 345.7,145.8 347.2,144.4 348.7,143.1 350.2,141.7 351.7,140.3 353.2,138.8 354.7,137.3 356.2,135.7 357.7,134.1 359.2,132.4 360.7,130.7 362.2,128.9 363.7,127.1 365.2,125.2 366.7,123.2 368.2,120.9 369.7,118.6 371.2,116.4 372.7,114.4 374.2,112.7 375.7,111.5 377.2,110.4 378.7,109.4 380.2,108.6 381.7,107.8 383.2,107.2 384.7,106.6 386.2,106.1 387.7,105.7 389.2,105.4 390.7,105 392.2,104.7 393.7,104.4 395.2,103.9 396.7,103.5 398.2,103 399.7,102.4 401.2,101.8 402.7,101.1 404.2,100.3 405.7,99.4 407.2,98.3 408.7,97.1 410.2,95.8 411.7,94.5 413.2,93 414.7,91.3 416.2,89.6 417.7,87.8 419.2,85.9 420.7,83.7 422.2,81.3 423.7,78.4 425.2,75 426.7,71.2 428.2,67.1 429.7,63 431.2,59.1 432.7,55.1 434.2,51.1 435.7,47 437.2,43.2 438.7,39.7 440.2,36.6 441.7,33.5 443.2,30.5 444.7,27.7 446.2,25 447.7,22.5 449.2,20.3 450.7,18.3 452.2,16.5 453.7,14.7 455.2,13.1 456.7,11.6 458.2,10.3 459.7,9.2 461.2,8.2 462.7,7.3 464.2,6.8 465.7,6.7 467.2,6.9 468.7,7.4 470.2,7.9 471.7,8.7 473.2,9.7 474.7,11 476.2,12.3 477.7,13.4 479.2,14.7 480.7,16.3 482.2,18.5 483.7,21.2 485.2,24.2 486.7,27.6 488.2,31.2 489.7,35.2 491.2,39.8 492.7,44.9 494.2,50.2 495.7,55.8 497.2,61.4 498.7,66.8 500.2,72 501.7,77.1 503.2,82.1 504.7,87.2 506.2,92.3 507.7,97.3 509.2,102.1 510.7,106.7 512.2,111 513.7,115.1 515.2,118.9 516.7,122.5 518.2,125.8 519.7,128.9 521.2,131.8 522.7,134.7 524.2,137.4 525.7,140 527.2,142.3 528.7,144.4 530.2,146.2 531.7,147.8 533.2,149.3 534.7,150.7 536.2,152 537.7,153.2 539.2,154.1 540.7,154.9 542.2,155.4" fill="none" stroke="#ff5050" stroke-width="0.7" stroke-linejoin="round" />
<polyline points="315.7,162 317.2,162 318.7,161.9 320.2,161.9 321.7,161.8 323.2,161.7 324.7,161.5 326.2,161.3 327.7,160.7 329.2,160 330.7,159 332.2,158 333.7,156.9 335.2,155.9 336.7,154.7 338.2,153.3 339.7,151.9 341.2,150.3 342.7,148.8 344.2,147.3 345.7,145.8 347.2,144.4 348.7,143.1 350.2,141.7 351.7,140.3 353.2,138.8 354.7,137.3 356.2,135.7 357.7,134.1 359.2,132.4 360.7,130.7 362.2,128.9 363.7,127.1 365.2,125.2 366.7,123.2 368.2,120.9 369.7,118.6 371.2,116.4 372.7,114.4 374.2,112.7 375.7,111.5 377.2,110.4 378.7,109.4 380.2,108.6 381.7,107.8 383.2,107.2 384.7,106.6 386.2,106.1 387.7,105.7 389.2,105.4 390.7,105 392.2,104.7 393.7,104.4 395.2,103.9 396.7,103.5 398.2,103 399.7,102.4 401.2,101.8 402.7,101.1 404.2,100.3 405.7,99.4 407.2,98.3 408.7,97.1 410.2,95.8 411.7,94.5 413.2,93 414.7,91.3 416.2,89.6 417.7,87.8 419.2,85.9 420.7,83.7 422.2,81.4 423.7,78.8 425.2,75.6 426.7,72.1 428.2,68.4 429.7,64.8 431.2,61.3 432.7,57.7 434.2,54 435.7,50.3 437.2,46.8 438.7,43.6 440.2,40.6 441.7,37.6 443.2,34.8 444.7,32.2 446.2,29.7 447.7,27.5 449.2,25.5 450.7,23.7 452.2,22.1 453.7,20.5 455.2,19.1 456.7,17.8 458.2,16.8 459.7,15.9 461.2,15.1 462.7,14.4 464.2,14 465.7,14.3 467.2,15.4 468.7,16.7 470.2,17.6 471.7,18.3 473.2,19.2 474.7,20.3 476.2,21.5 477.7,22.9 479.2,24.6 480.7,26.4 482.2,28.7 483.7,31.5 485.2,34.6 486.7,38 488.2,41.5 489.7,45.3 491.2,49.6 492.7,54.3 494.2,59.4 495.7,64.5 497.2,69.8 498.7,75 500.2,80 501.7,84.9 503.2,89.8 504.7,94.8 506.2,99.7 507.7,104.5 509.2,109.2 510.7,113.6 512.2,117.8 513.7,121.7 515.2,125.4 516.7,128.8 518.2,132 519.7,134.9 521.2,137.7 522.7,140.4 524.2,143 525.7,145.4 527.2,147.6 528.7,149.6 530.2,151.2 531.7,152.7 533.2,154 534.7,155.3 536.2,156.5 537.7,157.5 539.2,158.3 540.7,158.9 542.2,159.3" fill="none" stroke="#ff6060" stroke-width="0.7" stroke-linejoin="round" />
</g>
<g clip-path="url(#cc)">
<polyline points="31.4,372.1 32.2,371.7 32.9,371.4 33.7,371.2 34.5,371 35.2,370.8 36,370.7 36.8,370.6 37.5,370.5 38.3,370.4 39.1,370.2 39.8,370.1 40.6,369.9 41.4,369.7 42.1,369.5 42.9,369.2 43.7,368.9 44.4,368.4 45.2,368 46,367.4 46.8,366.7 47.5,366 48.3,365.2 49.1,364.4 49.8,363.4 50.6,362.5 51.4,361.5 52.1,360.5 52.9,359.5 53.7,358.5 54.4,357.5 55.2,356.6 56,355.6 56.7,354.7 57.5,353.8 58.3,352.9 59,352 59.8,351.1 60.6,350.2 61.3,349.4 62.1,348.4 62.9,347.5 63.6,346.6 64.4,345.7 65.2,344.7 65.9,343.8 66.7,342.8 67.5,341.8 68.2,340.9 69,339.9 69.8,339 70.5,338 71.3,337.1 72.1,336.1 72.8,335.2 73.6,334.3 74.4,333.4 75.2,332.5 75.9,331.6 76.7,330.8 77.5,330 78.2,329.2 79,328.4 79.8,327.6 80.5,326.9 81.3,326.2 82.1,325.6 82.8,324.9 83.6,324.4 84.4,323.8 85.1,323.3 85.9,322.8 86.7,322.3 87.4,321.9 88.2,321.5 89,321.1 89.7,320.7 90.5,320.3 91.3,320 92,319.7 92.8,319.4 93.6,319.1 94.3,318.8 95.1,318.5 95.9,318.2 96.6,318 97.4,317.8 98.2,317.5 98.9,317.3 99.7,317.1 100.5,316.9 101.2,316.8 102,316.6 102.8,316.4 103.6,316.2 104.3,316.1 105.1,315.9 105.9,315.8 106.6,315.7 107.4,315.5 108.2,315.4 108.9,315.3 109.7,315.1 110.5,315 111.2,314.9 112,314.7 112.8,314.5 113.5,314.3 114.3,314.1 115.1,313.9 115.8,313.6 116.6,313.4 117.4,313 118.1,312.7 118.9,312.3 119.7,311.9 120.4,311.4 121.2,310.9 122,310.3 122.7,309.8 123.5,309.1 124.3,308.5 125,307.8 125.8,307 126.6,306.3 127.3,305.5 128.1,304.7 128.9,303.8 129.6,302.9 130.4,302 131.2,301.1 132,300.1 132.7,299.2 133.5,298.2 134.3,297.2 135,296.1 135.8,295.1 136.6,294 137.3,292.9 138.1,291.8 138.9,290.7 139.6,289.6 140.4,288.4 141.2,287.3 141.9,286.2 142.7,285 143.5,283.8 144.2,282.6 145,281.4 145.8,280.2 146.5,278.9 147.3,277.6 148.1,276.3 148.8,275 149.6,273.6 150.4,272.2 151.1,270.8 151.9,269.3 152.7,267.8 153.4,266.2 154.2,264.7 155,263.1 155.7,261.5 156.5,259.9 157.3,258.4 158,256.9 158.8,255.3 159.6,253.9 160.3,252.4 161.1,251.1 161.9,249.7 162.7,248.5 163.4,247.3 164.2,246.2 165,245.2 165.7,244.2 166.5,243.3 167.3,242.3 168,241.4 168.8,240.5 169.6,239.6 170.3,238.7 171.1,237.8 171.9,237 172.6,236.2 173.4,235.4 174.2,234.6 174.9,233.9 175.7,233.2 176.5,232.5 177.2,231.9 178,231.3 178.8,230.8 179.5,230.3 180.3,229.9 181.1,229.5 181.8,229.2 182.6,228.9 183.4,228.8 184.1,228.6 184.9,228.6 185.7,228.6 186.4,228.7 187.2,228.9 188,229.1 188.7,229.4 189.5,229.8 190.3,230.3 191.1,230.8 191.8,231.3 192.6,232 193.4,232.7 194.1,233.5 194.9,234.3 195.7,235.2 196.4,236.1 197.2,237.1 198,238.2 198.7,239.3 199.5,240.5 200.3,241.8 201,243.1 201.8,244.4 202.6,245.8 203.3,247.3 204.1,248.8 204.9,250.4 205.6,252 206.4,253.7 207.2,255.4 207.9,257.2 208.7,259 209.5,260.8 210.2,262.8 211,264.7 211.8,266.7 212.5,268.8 213.3,270.8 214.1,272.9 214.8,275 215.6,277.1 216.4,279.1 217.1,281.1 217.9,283.1 218.7,285.1 219.5,287.1 220.2,289.1 221,291.1 221.8,293.3 222.5,295.5 223.3,297.9 224.1,300.3 224.8,302.8 225.6,305.3 226.4,307.8 227.1,310.3 227.9,312.7 228.7,315.1 229.4,317.4 230.2,319.6 231,321.8 231.7,323.9 232.5,326 233.3,328.1 234,330.1 234.8,332.1 235.6,334.1 236.3,336 237.1,337.9 237.9,339.7 238.6,341.5 239.4,343.3 240.2,345 240.9,346.7 241.7,348.4 242.5,350 243.2,351.5 244,353 244.8,354.5 245.5,355.9 246.3,357.3 247.1,358.6 247.9,359.8 248.6,361 249.4,362.2 250.2,363.2 250.9,364.3 251.7,365.2 252.5,366.1 253.2,367 254,367.7 254.8,368.5 255.5,369.1 256.3,369.7 257.1,370.2 257.8,370.6 258.6,371 259.4,371.3 260.1,371.5 260.9,371.6" fill="none" stroke="#ff0000" stroke-width="2.0" stroke-linejoin="round" />
<path d="M33.5 355.9V387.4M31.7 355.9H35.3M31.7 387.4H35.3" stroke="#ff1010" stroke-width="1.1" fill="none"/>
<path d="M55 328V386.8M53.2 328H56.8M53.2 386.8H56.8" stroke="#ff1010" stroke-width="1.1" fill="none"/>
<path d="M77.5 306.8V354.5M75.7 306.8H79.3M75.7 354.5H79.3" stroke="#ff1010" stroke-width="1.1" fill="none"/>
<path d="M100 297.5V336.2M98.2 297.5H101.8M98.2 336.2H101.8" stroke="#ff1010" stroke-width="1.1" fill="none"/>
<path d="M122 295.5V325.8M120.2 295.5H123.8M120.2 325.8H123.8" stroke="#ff1010" stroke-width="1.1" fill="none"/>
<path d="M143.9 271V294M142.1 271H145.7M142.1 294H145.7" stroke="#ff1010" stroke-width="1.1" fill="none"/>
<path d="M166.6 236.4V248.9M164.8 236.4H168.4M164.8 248.9H168.4" stroke="#ff1010" stroke-width="1.1" fill="none"/>
<path d="M189.3 220.5V239.4M187.5 220.5H191.1M187.5 239.4H191.1" stroke="#ff1010" stroke-width="1.1" fill="none"/>
<path d="M211.7 258V276.3M209.9 258H213.5M209.9 276.3H213.5" stroke="#ff1010" stroke-width="1.1" fill="none"/>
<path d="M233.8 320V343M232 320H235.6M232 343H235.6" stroke="#ff1010" stroke-width="1.1" fill="none"/>
<path d="M256 357.5V382.4M254.2 357.5H257.8M254.2 382.4H257.8" stroke="#ff1010" stroke-width="1.1" fill="none"/>
</g>
<g clip-path="url(#cd)">
<polyline points="311.9,378 312.7,378 313.4,378 314.2,377.9 315,377.8 315.7,377.7 316.5,377.6 317.3,377.4 318.1,377.2 318.8,377 319.6,376.7 320.4,376.5 321.1,376.1 321.9,375.8 322.7,375.4 323.4,374.9 324.2,374.5 325,374 325.7,373.4 326.5,372.8 327.3,372.2 328.1,371.5 328.8,370.8 329.6,370.1 330.4,369.3 331.1,368.5 331.9,367.7 332.7,366.9 333.4,366 334.2,365.1 335,364.2 335.7,363.3 336.5,362.3 337.3,361.4 338.1,360.4 338.8,359.4 339.6,358.4 340.4,357.5 341.1,356.5 341.9,355.5 342.7,354.5 343.4,353.5 344.2,352.5 345,351.5 345.7,350.5 346.5,349.5 347.3,348.5 348.1,347.6 348.8,346.6 349.6,345.7 350.4,344.8 351.1,343.9 351.9,343 352.7,342.1 353.4,341.3 354.2,340.4 355,339.6 355.7,338.8 356.5,338 357.3,337.2 358.1,336.4 358.8,335.7 359.6,334.9 360.4,334.2 361.1,333.5 361.9,332.8 362.7,332.2 363.4,331.5 364.2,330.9 365,330.3 365.7,329.8 366.5,329.2 367.3,328.7 368.1,328.2 368.8,327.7 369.6,327.2 370.4,326.8 371.1,326.3 371.9,325.9 372.7,325.5 373.4,325.2 374.2,324.8 375,324.5 375.7,324.2 376.5,323.9 377.3,323.7 378.1,323.4 378.8,323.2 379.6,323 380.4,322.8 381.1,322.6 381.9,322.5 382.7,322.4 383.4,322.3 384.2,322.1 385,322 385.7,321.9 386.5,321.9 387.3,321.8 388.1,321.7 388.8,321.6 389.6,321.5 390.4,321.4 391.1,321.3 391.9,321.1 392.7,321 393.4,320.8 394.2,320.6 395,320.5 395.7,320.2 396.5,320 397.3,319.7 398.1,319.4 398.8,319.1 399.6,318.7 400.4,318.3 401.1,317.8 401.9,317.3 402.7,316.8 403.4,316.2 404.2,315.6 405,314.9 405.7,314.2 406.5,313.4 407.3,312.5 408.1,311.6 408.8,310.7 409.6,309.7 410.4,308.7 411.1,307.6 411.9,306.4 412.7,305.3 413.4,304.1 414.2,302.9 415,301.7 415.7,300.4 416.5,299.1 417.3,297.9 418.1,296.6 418.8,295.3 419.6,294 420.4,292.7 421.1,291.4 421.9,290.2 422.7,288.9 423.4,287.6 424.2,286.3 425,285 425.7,283.7 426.5,282.3 427.3,281 428.1,279.6 428.8,278.1 429.6,276.6 430.4,275.1 431.1,273.5 431.9,271.9 432.7,270.2 433.4,268.5 434.2,266.7 435,265 435.7,263.2 436.5,261.5 437.3,259.8 438.1,258.2 438.8,256.6 439.6,255.1 440.4,253.7 441.1,252.4 441.9,251 442.7,249.8 443.4,248.5 444.2,247.3 445,246.1 445.7,244.9 446.5,243.7 447.3,242.6 448.1,241.5 448.8,240.3 449.6,239.3 450.4,238.2 451.1,237.2 451.9,236.2 452.7,235.2 453.4,234.3 454.2,233.4 455,232.6 455.7,231.7 456.5,231 457.3,230.3 458.1,229.6 458.8,229 459.6,228.5 460.4,228 461.1,227.5 461.9,227.1 462.7,226.8 463.4,226.6 464.2,226.4 465,226.3 465.7,226.3 466.5,226.4 467.3,226.6 468.1,226.8 468.8,227.2 469.6,227.7 470.4,228.2 471.1,228.9 471.9,229.7 472.7,230.6 473.4,231.5 474.2,232.6 475,233.7 475.7,234.9 476.5,236.2 477.3,237.6 478.1,239 478.8,240.5 479.6,242.1 480.4,243.6 481.1,245.3 481.9,247 482.7,248.7 483.4,250.4 484.2,252.2 485,254 485.7,255.8 486.5,257.6 487.3,259.4 488.1,261.1 488.8,262.9 489.6,264.6 490.4,266.2 491.1,268 491.9,269.7 492.7,271.5 493.4,273.4 494.2,275.3 495,277.4 495.7,279.4 496.5,281.5 497.3,283.7 498.1,285.8 498.8,288 499.6,290.2 500.4,292.4 501.1,294.7 501.9,297 502.7,299.4 503.4,301.8 504.2,304.3 505,306.9 505.7,309.4 506.5,312 507.3,314.6 508.1,317.1 508.8,319.6 509.6,322.1 510.4,324.6 511.1,327 511.9,329.4 512.7,331.7 513.4,334 514.2,336.3 515,338.5 515.7,340.6 516.5,342.7 517.3,344.8 518.1,346.8 518.8,348.7 519.6,350.5 520.4,352.3 521.1,354 521.9,355.7 522.7,357.3 523.4,358.8 524.2,360.2 525,361.6 525.7,362.9 526.5,364.2 527.3,365.4 528.1,366.5 528.8,367.6 529.6,368.6 530.4,369.6 531.1,370.5 531.9,371.3 532.7,372.1 533.4,372.9 534.2,373.5 535,374.2 535.7,374.8 536.5,375.3 537.3,375.8 538.1,376.2 538.8,376.6 539.6,376.9 540.4,377.2 541.1,377.4 541.9,377.6" fill="none" stroke="#0000ff" stroke-width="2.0" stroke-linejoin="round" />
<path d="M313.8 365.7V389.7M311.9 365.7H315.7M311.9 389.7H315.7" stroke="#1010ff" stroke-width="1.3" fill="none"/>
<path d="M335.4 353V374.8M333.5 353H337.3M333.5 374.8H337.3" stroke="#1010ff" stroke-width="1.3" fill="none"/>
<path d="M357.8 326.5V347.4M355.9 326.5H359.7M355.9 347.4H359.7" stroke="#1010ff" stroke-width="1.3" fill="none"/>
<path d="M380.4 316.1V330.3M378.5 316.1H382.3M378.5 330.3H382.3" stroke="#1010ff" stroke-width="1.3" fill="none"/>
<path d="M402.8 310.5V323.2M400.9 310.5H404.7M400.9 323.2H404.7" stroke="#1010ff" stroke-width="1.3" fill="none"/>
<path d="M424.9 278.2V289.9M423 278.2H426.8M423 289.9H426.8" stroke="#1010ff" stroke-width="1.3" fill="none"/>
<path d="M447.2 236.8V245.5M445.3 236.8H449.1M445.3 245.5H449.1" stroke="#1010ff" stroke-width="1.3" fill="none"/>
<path d="M469.8 222.6V233.4M467.9 222.6H471.7M467.9 233.4H471.7" stroke="#1010ff" stroke-width="1.3" fill="none"/>
<path d="M492.2 258.6V279.5M490.3 258.6H494.1M490.3 279.5H494.1" stroke="#1010ff" stroke-width="1.3" fill="none"/>
<path d="M514.9 325.4V346.3M513 325.4H516.8M513 346.3H516.8" stroke="#1010ff" stroke-width="1.3" fill="none"/>
<path d="M537.5 367.4V385M535.6 367.4H539.4M535.6 385H539.4" stroke="#1010ff" stroke-width="1.3" fill="none"/>
</g>
<rect x="31.4" y="6.8" width="224.5" height="164.5" class="ax"/>
<line x1="61.8" y1="171.3" x2="61.8" y2="169.1" class="tk"/>
<line x1="61.8" y1="6.8" x2="61.8" y2="9" class="tk"/>
<text x="61.8" y="182.2" class="tl" text-anchor="middle" font-size="8.6">0.1</text>
<line x1="94" y1="171.3" x2="94" y2="169.1" class="tk"/>
<line x1="94" y1="6.8" x2="94" y2="9" class="tk"/>
<text x="94" y="182.2" class="tl" text-anchor="middle" font-size="8.6">0.2</text>
<line x1="126.2" y1="171.3" x2="126.2" y2="169.1" class="tk"/>
<line x1="126.2" y1="6.8" x2="126.2" y2="9" class="tk"/>
<text x="126.2" y="182.2" class="tl" text-anchor="middle" font-size="8.6">0.3</text>
<line x1="158.3" y1="171.3" x2="158.3" y2="169.1" class="tk"/>
<line x1="158.3" y1="6.8" x2="158.3" y2="9" class="tk"/>
<text x="158.3" y="182.2" class="tl" text-anchor="middle" font-size="8.6">0.4</text>
<line x1="190.5" y1="171.3" x2="190.5" y2="169.1" class="tk"/>
<line x1="190.5" y1="6.8" x2="190.5" y2="9" class="tk"/>
<text x="190.5" y="182.2" class="tl" text-anchor="middle" font-size="8.6">0.5</text>
<line x1="222.7" y1="171.3" x2="222.7" y2="169.1" class="tk"/>
<line x1="222.7" y1="6.8" x2="222.7" y2="9" class="tk"/>
<text x="222.7" y="182.2" class="tl" text-anchor="middle" font-size="8.6">0.6</text>
<line x1="254.9" y1="171.3" x2="254.9" y2="169.1" class="tk"/>
<line x1="254.9" y1="6.8" x2="254.9" y2="9" class="tk"/>
<text x="254.9" y="182.2" class="tl" text-anchor="middle" font-size="8.6">0.7</text>
<line x1="31.4" y1="160.8" x2="33.6" y2="160.8" class="tk"/>
<line x1="255.9" y1="160.8" x2="253.7" y2="160.8" class="tk"/>
<text x="28.6" y="164" class="tl" text-anchor="end" font-size="8.6">0.2</text>
<line x1="31.4" y1="120.8" x2="33.6" y2="120.8" class="tk"/>
<line x1="255.9" y1="120.8" x2="253.7" y2="120.8" class="tk"/>
<text x="28.6" y="124" class="tl" text-anchor="end" font-size="8.6">0.4</text>
<line x1="31.4" y1="80.9" x2="33.6" y2="80.9" class="tk"/>
<line x1="255.9" y1="80.9" x2="253.7" y2="80.9" class="tk"/>
<text x="28.6" y="84.1" class="tl" text-anchor="end" font-size="8.6">0.6</text>
<line x1="31.4" y1="40.9" x2="33.6" y2="40.9" class="tk"/>
<line x1="255.9" y1="40.9" x2="253.7" y2="40.9" class="tk"/>
<text x="28.6" y="44.1" class="tl" text-anchor="end" font-size="8.6">0.8</text>
<rect x="315.7" y="6.8" width="225.3" height="164.5" class="ax"/>
<line x1="346.6" y1="171.3" x2="346.6" y2="169.1" class="tk"/>
<line x1="346.6" y1="6.8" x2="346.6" y2="9" class="tk"/>
<text x="346.6" y="182.2" class="tl" text-anchor="middle" font-size="8.6">0.1</text>
<line x1="378.8" y1="171.3" x2="378.8" y2="169.1" class="tk"/>
<line x1="378.8" y1="6.8" x2="378.8" y2="9" class="tk"/>
<text x="378.8" y="182.2" class="tl" text-anchor="middle" font-size="8.6">0.2</text>
<line x1="411" y1="171.3" x2="411" y2="169.1" class="tk"/>
<line x1="411" y1="6.8" x2="411" y2="9" class="tk"/>
<text x="411" y="182.2" class="tl" text-anchor="middle" font-size="8.6">0.3</text>
<line x1="443.1" y1="171.3" x2="443.1" y2="169.1" class="tk"/>
<line x1="443.1" y1="6.8" x2="443.1" y2="9" class="tk"/>
<text x="443.1" y="182.2" class="tl" text-anchor="middle" font-size="8.6">0.4</text>
<line x1="475.3" y1="171.3" x2="475.3" y2="169.1" class="tk"/>
<line x1="475.3" y1="6.8" x2="475.3" y2="9" class="tk"/>
<text x="475.3" y="182.2" class="tl" text-anchor="middle" font-size="8.6">0.5</text>
<line x1="507.5" y1="171.3" x2="507.5" y2="169.1" class="tk"/>
<line x1="507.5" y1="6.8" x2="507.5" y2="9" class="tk"/>
<text x="507.5" y="182.2" class="tl" text-anchor="middle" font-size="8.6">0.6</text>
<line x1="539.7" y1="171.3" x2="539.7" y2="169.1" class="tk"/>
<line x1="539.7" y1="6.8" x2="539.7" y2="9" class="tk"/>
<text x="539.7" y="182.2" class="tl" text-anchor="middle" font-size="8.6">0.7</text>
<line x1="315.7" y1="160.8" x2="317.9" y2="160.8" class="tk"/>
<line x1="541" y1="160.8" x2="538.8" y2="160.8" class="tk"/>
<text x="312.9" y="164" class="tl" text-anchor="end" font-size="8.6">0.2</text>
<line x1="315.7" y1="120.9" x2="317.9" y2="120.9" class="tk"/>
<line x1="541" y1="120.9" x2="538.8" y2="120.9" class="tk"/>
<text x="312.9" y="124.1" class="tl" text-anchor="end" font-size="8.6">0.4</text>
<line x1="315.7" y1="81" x2="317.9" y2="81" class="tk"/>
<line x1="541" y1="81" x2="538.8" y2="81" class="tk"/>
<text x="312.9" y="84.2" class="tl" text-anchor="end" font-size="8.6">0.6</text>
<line x1="315.7" y1="41.1" x2="317.9" y2="41.1" class="tk"/>
<line x1="541" y1="41.1" x2="538.8" y2="41.1" class="tk"/>
<text x="312.9" y="44.3" class="tl" text-anchor="end" font-size="8.6">0.8</text>
<rect x="31.4" y="220.5" width="229" height="166.9" class="ax"/>
<line x1="62.3" y1="387.4" x2="62.3" y2="385.2" class="tk"/>
<line x1="62.3" y1="220.5" x2="62.3" y2="222.7" class="tk"/>
<text x="62.3" y="399.3" class="tl" text-anchor="middle" font-size="8.6">0.1</text>
<line x1="95" y1="387.4" x2="95" y2="385.2" class="tk"/>
<line x1="95" y1="220.5" x2="95" y2="222.7" class="tk"/>
<text x="95" y="399.3" class="tl" text-anchor="middle" font-size="8.6">0.2</text>
<line x1="127.7" y1="387.4" x2="127.7" y2="385.2" class="tk"/>
<line x1="127.7" y1="220.5" x2="127.7" y2="222.7" class="tk"/>
<text x="127.7" y="399.3" class="tl" text-anchor="middle" font-size="8.6">0.3</text>
<line x1="160.5" y1="387.4" x2="160.5" y2="385.2" class="tk"/>
<line x1="160.5" y1="220.5" x2="160.5" y2="222.7" class="tk"/>
<text x="160.5" y="399.3" class="tl" text-anchor="middle" font-size="8.6">0.4</text>
<line x1="193.2" y1="387.4" x2="193.2" y2="385.2" class="tk"/>
<line x1="193.2" y1="220.5" x2="193.2" y2="222.7" class="tk"/>
<text x="193.2" y="399.3" class="tl" text-anchor="middle" font-size="8.6">0.5</text>
<line x1="225.9" y1="387.4" x2="225.9" y2="385.2" class="tk"/>
<line x1="225.9" y1="220.5" x2="225.9" y2="222.7" class="tk"/>
<text x="225.9" y="399.3" class="tl" text-anchor="middle" font-size="8.6">0.6</text>
<line x1="258.6" y1="387.4" x2="258.6" y2="385.2" class="tk"/>
<line x1="258.6" y1="220.5" x2="258.6" y2="222.7" class="tk"/>
<text x="258.6" y="399.3" class="tl" text-anchor="middle" font-size="8.6">0.7</text>
<line x1="31.4" y1="374" x2="33.6" y2="374" class="tk"/>
<line x1="260.4" y1="374" x2="258.2" y2="374" class="tk"/>
<text x="28.6" y="377.3" class="tl" text-anchor="end" font-size="8.6">0.2</text>
<line x1="31.4" y1="335" x2="33.6" y2="335" class="tk"/>
<line x1="260.4" y1="335" x2="258.2" y2="335" class="tk"/>
<text x="28.6" y="338.3" class="tl" text-anchor="end" font-size="8.6">0.4</text>
<line x1="31.4" y1="296.1" x2="33.6" y2="296.1" class="tk"/>
<line x1="260.4" y1="296.1" x2="258.2" y2="296.1" class="tk"/>
<text x="28.6" y="299.4" class="tl" text-anchor="end" font-size="8.6">0.6</text>
<line x1="31.4" y1="257.1" x2="33.6" y2="257.1" class="tk"/>
<line x1="260.4" y1="257.1" x2="258.2" y2="257.1" class="tk"/>
<text x="28.6" y="260.4" class="tl" text-anchor="end" font-size="8.6">0.8</text>
<rect x="311.9" y="222.6" width="229.4" height="167.4" class="ax"/>
<line x1="343" y1="390" x2="343" y2="387.8" class="tk"/>
<line x1="343" y1="222.6" x2="343" y2="224.8" class="tk"/>
<text x="343" y="402" class="tl" text-anchor="middle" font-size="8.8">0.1</text>
<line x1="375.8" y1="390" x2="375.8" y2="387.8" class="tk"/>
<line x1="375.8" y1="222.6" x2="375.8" y2="224.8" class="tk"/>
<text x="375.8" y="402" class="tl" text-anchor="middle" font-size="8.8">0.2</text>
<line x1="408.5" y1="390" x2="408.5" y2="387.8" class="tk"/>
<line x1="408.5" y1="222.6" x2="408.5" y2="224.8" class="tk"/>
<text x="408.5" y="402" class="tl" text-anchor="middle" font-size="8.8">0.3</text>
<line x1="441.3" y1="390" x2="441.3" y2="387.8" class="tk"/>
<line x1="441.3" y1="222.6" x2="441.3" y2="224.8" class="tk"/>
<text x="441.3" y="402" class="tl" text-anchor="middle" font-size="8.8">0.4</text>
<line x1="474" y1="390" x2="474" y2="387.8" class="tk"/>
<line x1="474" y1="222.6" x2="474" y2="224.8" class="tk"/>
<text x="474" y="402" class="tl" text-anchor="middle" font-size="8.8">0.5</text>
<line x1="506.8" y1="390" x2="506.8" y2="387.8" class="tk"/>
<line x1="506.8" y1="222.6" x2="506.8" y2="224.8" class="tk"/>
<text x="506.8" y="402" class="tl" text-anchor="middle" font-size="8.8">0.6</text>
<line x1="539.6" y1="390" x2="539.6" y2="387.8" class="tk"/>
<line x1="539.6" y1="222.6" x2="539.6" y2="224.8" class="tk"/>
<text x="539.6" y="402" class="tl" text-anchor="middle" font-size="8.8">0.7</text>
<line x1="311.9" y1="379.6" x2="314.1" y2="379.6" class="tk"/>
<line x1="541.3" y1="379.6" x2="539.1" y2="379.6" class="tk"/>
<text x="309.1" y="383.2" class="tl" text-anchor="end" font-size="8.8">0.2</text>
<line x1="311.9" y1="338.9" x2="314.1" y2="338.9" class="tk"/>
<line x1="541.3" y1="338.9" x2="539.1" y2="338.9" class="tk"/>
<text x="309.1" y="342.5" class="tl" text-anchor="end" font-size="8.8">0.4</text>
<line x1="311.9" y1="298.2" x2="314.1" y2="298.2" class="tk"/>
<line x1="541.3" y1="298.2" x2="539.1" y2="298.2" class="tk"/>
<text x="309.1" y="301.8" class="tl" text-anchor="end" font-size="8.8">0.6</text>
<line x1="311.9" y1="257.5" x2="314.1" y2="257.5" class="tk"/>
<line x1="541.3" y1="257.5" x2="539.1" y2="257.5" class="tk"/>
<text x="309.1" y="261.1" class="tl" text-anchor="end" font-size="8.8">0.8</text>
<text x="145.1" y="191.8" class="xl" text-anchor="middle">Time(sec.)</text>
<text x="435" y="191.8" class="xl" text-anchor="middle">Time(sec.)</text>
<text x="146.6" y="409.8" class="xl" text-anchor="middle">Time(sec.)</text>
<text x="425.5" y="411.2" class="xl" text-anchor="middle">Time(sec.)</text>
<text transform="translate(10.4,89) rotate(-90)" class="xl" text-anchor="middle">Relative intensity</text>
<text transform="translate(296.5,88.9) rotate(-90)" class="xl" text-anchor="middle">Relative intensity</text>
<text transform="translate(11.3,306.1) rotate(-90)" class="xl" text-anchor="middle">Relative intensity</text>
<text transform="translate(291.5,307) rotate(-90)" class="xl" text-anchor="middle">Relative intensity</text>
<text x="143.6" y="214" class="cap" text-anchor="middle"><tspan style="font-size:12.9px">(</tspan><tspan font-weight="bold">a</tspan><tspan style="font-size:12.9px">)</tspan></text>
<text x="445.4" y="213.9" class="cap" text-anchor="middle"><tspan style="font-size:12.9px">(</tspan><tspan font-weight="bold">b</tspan><tspan style="font-size:12.9px">)</tspan></text>
<text x="143.7" y="435.3" class="cap" text-anchor="middle"><tspan style="font-size:12.9px">(</tspan><tspan font-weight="bold">c</tspan><tspan style="font-size:12.9px">)</tspan></text>
<text x="445.5" y="435.4" class="cap" text-anchor="middle"><tspan style="font-size:12.9px">(</tspan><tspan font-weight="bold">d</tspan><tspan style="font-size:12.9px">)</tspan></text>
</svg>
</body></html>
